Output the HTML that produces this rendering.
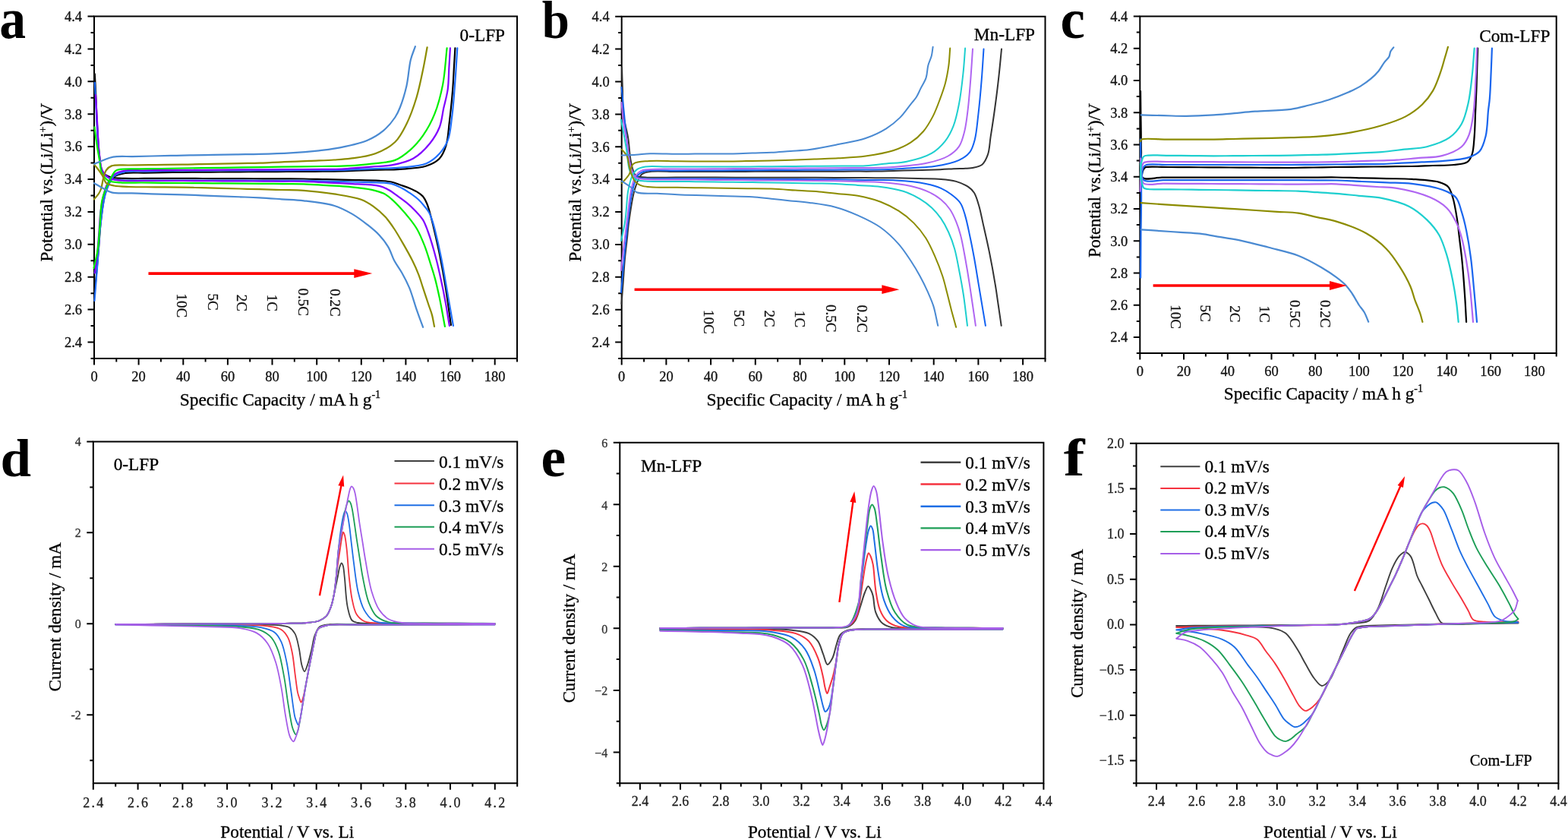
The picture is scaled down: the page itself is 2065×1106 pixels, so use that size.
<!DOCTYPE html>
<html><head><meta charset="utf-8"><title>Figure</title>
<style>html,body{margin:0;padding:0;background:#fff;}svg{display:block;}</style></head>
<body><svg width="2065" height="1106" viewBox="0 0 2065 1106">
<rect width="2065" height="1106" fill="#fff"/>
<path d="M124.0 21.5H681.0V472.0H124.0Z" fill="none" stroke="#000" stroke-width="2.0" stroke-linejoin="miter"/>
<path d="M124.0 472.0v8.5M182.6 472.0v8.5M241.3 472.0v8.5M299.9 472.0v8.5M358.5 472.0v8.5M417.2 472.0v8.5M475.8 472.0v8.5M534.4 472.0v8.5M593.1 472.0v8.5M651.7 472.0v8.5M153.3 472.0v4.5M211.9 472.0v4.5M270.6 472.0v4.5M329.2 472.0v4.5M387.8 472.0v4.5M446.5 472.0v4.5M505.1 472.0v4.5M563.7 472.0v4.5M622.4 472.0v4.5M681.0 472.0v4.5M124.0 450.5h-8.5M124.0 407.6h-8.5M124.0 364.7h-8.5M124.0 321.8h-8.5M124.0 278.9h-8.5M124.0 236.0h-8.5M124.0 193.1h-8.5M124.0 150.2h-8.5M124.0 107.3h-8.5M124.0 64.4h-8.5M124.0 21.5h-8.5M124.0 472.0h-4.5M124.0 429.1h-4.5M124.0 386.2h-4.5M124.0 343.3h-4.5M124.0 300.4h-4.5M124.0 257.5h-4.5M124.0 214.6h-4.5M124.0 171.7h-4.5M124.0 128.8h-4.5M124.0 85.9h-4.5M124.0 43.0h-4.5" stroke="#000" stroke-width="2.0" fill="none"/>
<text x="124.0" y="501.5" font-family="'Liberation Serif', 'Times New Roman', serif" font-size="18.5" text-anchor="middle" font-weight="normal" fill="#111" stroke="#111" stroke-width="0.3" >0</text>
<text x="182.6" y="501.5" font-family="'Liberation Serif', 'Times New Roman', serif" font-size="18.5" text-anchor="middle" font-weight="normal" fill="#111" stroke="#111" stroke-width="0.3" >20</text>
<text x="241.3" y="501.5" font-family="'Liberation Serif', 'Times New Roman', serif" font-size="18.5" text-anchor="middle" font-weight="normal" fill="#111" stroke="#111" stroke-width="0.3" >40</text>
<text x="299.9" y="501.5" font-family="'Liberation Serif', 'Times New Roman', serif" font-size="18.5" text-anchor="middle" font-weight="normal" fill="#111" stroke="#111" stroke-width="0.3" >60</text>
<text x="358.5" y="501.5" font-family="'Liberation Serif', 'Times New Roman', serif" font-size="18.5" text-anchor="middle" font-weight="normal" fill="#111" stroke="#111" stroke-width="0.3" >80</text>
<text x="417.2" y="501.5" font-family="'Liberation Serif', 'Times New Roman', serif" font-size="18.5" text-anchor="middle" font-weight="normal" fill="#111" stroke="#111" stroke-width="0.3" >100</text>
<text x="475.8" y="501.5" font-family="'Liberation Serif', 'Times New Roman', serif" font-size="18.5" text-anchor="middle" font-weight="normal" fill="#111" stroke="#111" stroke-width="0.3" >120</text>
<text x="534.4" y="501.5" font-family="'Liberation Serif', 'Times New Roman', serif" font-size="18.5" text-anchor="middle" font-weight="normal" fill="#111" stroke="#111" stroke-width="0.3" >140</text>
<text x="593.1" y="501.5" font-family="'Liberation Serif', 'Times New Roman', serif" font-size="18.5" text-anchor="middle" font-weight="normal" fill="#111" stroke="#111" stroke-width="0.3" >160</text>
<text x="651.7" y="501.5" font-family="'Liberation Serif', 'Times New Roman', serif" font-size="18.5" text-anchor="middle" font-weight="normal" fill="#111" stroke="#111" stroke-width="0.3" >180</text>
<text x="108.0" y="456.8" font-family="'Liberation Serif', 'Times New Roman', serif" font-size="18.5" text-anchor="end" font-weight="normal" fill="#111" stroke="#111" stroke-width="0.3" >2.4</text>
<text x="108.0" y="413.9" font-family="'Liberation Serif', 'Times New Roman', serif" font-size="18.5" text-anchor="end" font-weight="normal" fill="#111" stroke="#111" stroke-width="0.3" >2.6</text>
<text x="108.0" y="371.0" font-family="'Liberation Serif', 'Times New Roman', serif" font-size="18.5" text-anchor="end" font-weight="normal" fill="#111" stroke="#111" stroke-width="0.3" >2.8</text>
<text x="108.0" y="328.1" font-family="'Liberation Serif', 'Times New Roman', serif" font-size="18.5" text-anchor="end" font-weight="normal" fill="#111" stroke="#111" stroke-width="0.3" >3.0</text>
<text x="108.0" y="285.2" font-family="'Liberation Serif', 'Times New Roman', serif" font-size="18.5" text-anchor="end" font-weight="normal" fill="#111" stroke="#111" stroke-width="0.3" >3.2</text>
<text x="108.0" y="242.3" font-family="'Liberation Serif', 'Times New Roman', serif" font-size="18.5" text-anchor="end" font-weight="normal" fill="#111" stroke="#111" stroke-width="0.3" >3.4</text>
<text x="108.0" y="199.4" font-family="'Liberation Serif', 'Times New Roman', serif" font-size="18.5" text-anchor="end" font-weight="normal" fill="#111" stroke="#111" stroke-width="0.3" >3.6</text>
<text x="108.0" y="156.5" font-family="'Liberation Serif', 'Times New Roman', serif" font-size="18.5" text-anchor="end" font-weight="normal" fill="#111" stroke="#111" stroke-width="0.3" >3.8</text>
<text x="108.0" y="113.6" font-family="'Liberation Serif', 'Times New Roman', serif" font-size="18.5" text-anchor="end" font-weight="normal" fill="#111" stroke="#111" stroke-width="0.3" >4.0</text>
<text x="108.0" y="70.7" font-family="'Liberation Serif', 'Times New Roman', serif" font-size="18.5" text-anchor="end" font-weight="normal" fill="#111" stroke="#111" stroke-width="0.3" >4.2</text>
<text x="108.0" y="27.8" font-family="'Liberation Serif', 'Times New Roman', serif" font-size="18.5" text-anchor="end" font-weight="normal" fill="#111" stroke="#111" stroke-width="0.3" >4.4</text>
<path d="M818.7 21.7H1376.5V472.0H818.7Z" fill="none" stroke="#000" stroke-width="2.0" stroke-linejoin="miter"/>
<path d="M818.7 472.0v8.5M877.4 472.0v8.5M936.1 472.0v8.5M994.8 472.0v8.5M1053.6 472.0v8.5M1112.3 472.0v8.5M1171.0 472.0v8.5M1229.7 472.0v8.5M1288.4 472.0v8.5M1347.1 472.0v8.5M848.1 472.0v4.5M906.8 472.0v4.5M965.5 472.0v4.5M1024.2 472.0v4.5M1082.9 472.0v4.5M1141.6 472.0v4.5M1200.4 472.0v4.5M1259.1 472.0v4.5M1317.8 472.0v4.5M1376.5 472.0v4.5M818.7 450.6h-8.5M818.7 407.7h-8.5M818.7 364.8h-8.5M818.7 321.9h-8.5M818.7 279.0h-8.5M818.7 236.1h-8.5M818.7 193.2h-8.5M818.7 150.4h-8.5M818.7 107.5h-8.5M818.7 64.6h-8.5M818.7 21.7h-8.5M818.7 472.0h-4.5M818.7 429.1h-4.5M818.7 386.2h-4.5M818.7 343.3h-4.5M818.7 300.5h-4.5M818.7 257.6h-4.5M818.7 214.7h-4.5M818.7 171.8h-4.5M818.7 128.9h-4.5M818.7 86.0h-4.5M818.7 43.1h-4.5" stroke="#000" stroke-width="2.0" fill="none"/>
<text x="818.7" y="501.5" font-family="'Liberation Serif', 'Times New Roman', serif" font-size="18.5" text-anchor="middle" font-weight="normal" fill="#111" stroke="#111" stroke-width="0.3" >0</text>
<text x="877.4" y="501.5" font-family="'Liberation Serif', 'Times New Roman', serif" font-size="18.5" text-anchor="middle" font-weight="normal" fill="#111" stroke="#111" stroke-width="0.3" >20</text>
<text x="936.1" y="501.5" font-family="'Liberation Serif', 'Times New Roman', serif" font-size="18.5" text-anchor="middle" font-weight="normal" fill="#111" stroke="#111" stroke-width="0.3" >40</text>
<text x="994.8" y="501.5" font-family="'Liberation Serif', 'Times New Roman', serif" font-size="18.5" text-anchor="middle" font-weight="normal" fill="#111" stroke="#111" stroke-width="0.3" >60</text>
<text x="1053.6" y="501.5" font-family="'Liberation Serif', 'Times New Roman', serif" font-size="18.5" text-anchor="middle" font-weight="normal" fill="#111" stroke="#111" stroke-width="0.3" >80</text>
<text x="1112.3" y="501.5" font-family="'Liberation Serif', 'Times New Roman', serif" font-size="18.5" text-anchor="middle" font-weight="normal" fill="#111" stroke="#111" stroke-width="0.3" >100</text>
<text x="1171.0" y="501.5" font-family="'Liberation Serif', 'Times New Roman', serif" font-size="18.5" text-anchor="middle" font-weight="normal" fill="#111" stroke="#111" stroke-width="0.3" >120</text>
<text x="1229.7" y="501.5" font-family="'Liberation Serif', 'Times New Roman', serif" font-size="18.5" text-anchor="middle" font-weight="normal" fill="#111" stroke="#111" stroke-width="0.3" >140</text>
<text x="1288.4" y="501.5" font-family="'Liberation Serif', 'Times New Roman', serif" font-size="18.5" text-anchor="middle" font-weight="normal" fill="#111" stroke="#111" stroke-width="0.3" >160</text>
<text x="1347.1" y="501.5" font-family="'Liberation Serif', 'Times New Roman', serif" font-size="18.5" text-anchor="middle" font-weight="normal" fill="#111" stroke="#111" stroke-width="0.3" >180</text>
<text x="802.7" y="456.9" font-family="'Liberation Serif', 'Times New Roman', serif" font-size="18.5" text-anchor="end" font-weight="normal" fill="#111" stroke="#111" stroke-width="0.3" >2.4</text>
<text x="802.7" y="414.0" font-family="'Liberation Serif', 'Times New Roman', serif" font-size="18.5" text-anchor="end" font-weight="normal" fill="#111" stroke="#111" stroke-width="0.3" >2.6</text>
<text x="802.7" y="371.1" font-family="'Liberation Serif', 'Times New Roman', serif" font-size="18.5" text-anchor="end" font-weight="normal" fill="#111" stroke="#111" stroke-width="0.3" >2.8</text>
<text x="802.7" y="328.2" font-family="'Liberation Serif', 'Times New Roman', serif" font-size="18.5" text-anchor="end" font-weight="normal" fill="#111" stroke="#111" stroke-width="0.3" >3.0</text>
<text x="802.7" y="285.3" font-family="'Liberation Serif', 'Times New Roman', serif" font-size="18.5" text-anchor="end" font-weight="normal" fill="#111" stroke="#111" stroke-width="0.3" >3.2</text>
<text x="802.7" y="242.4" font-family="'Liberation Serif', 'Times New Roman', serif" font-size="18.5" text-anchor="end" font-weight="normal" fill="#111" stroke="#111" stroke-width="0.3" >3.4</text>
<text x="802.7" y="199.5" font-family="'Liberation Serif', 'Times New Roman', serif" font-size="18.5" text-anchor="end" font-weight="normal" fill="#111" stroke="#111" stroke-width="0.3" >3.6</text>
<text x="802.7" y="156.7" font-family="'Liberation Serif', 'Times New Roman', serif" font-size="18.5" text-anchor="end" font-weight="normal" fill="#111" stroke="#111" stroke-width="0.3" >3.8</text>
<text x="802.7" y="113.8" font-family="'Liberation Serif', 'Times New Roman', serif" font-size="18.5" text-anchor="end" font-weight="normal" fill="#111" stroke="#111" stroke-width="0.3" >4.0</text>
<text x="802.7" y="70.9" font-family="'Liberation Serif', 'Times New Roman', serif" font-size="18.5" text-anchor="end" font-weight="normal" fill="#111" stroke="#111" stroke-width="0.3" >4.2</text>
<text x="802.7" y="28.0" font-family="'Liberation Serif', 'Times New Roman', serif" font-size="18.5" text-anchor="end" font-weight="normal" fill="#111" stroke="#111" stroke-width="0.3" >4.4</text>
<path d="M1501.3 21.5H2049.7V465.1H1501.3Z" fill="none" stroke="#000" stroke-width="2.0" stroke-linejoin="miter"/>
<path d="M1501.3 465.1v8.5M1559.0 465.1v8.5M1616.8 465.1v8.5M1674.5 465.1v8.5M1732.2 465.1v8.5M1789.9 465.1v8.5M1847.7 465.1v8.5M1905.4 465.1v8.5M1963.1 465.1v8.5M2020.8 465.1v8.5M1530.2 465.1v4.5M1587.9 465.1v4.5M1645.6 465.1v4.5M1703.3 465.1v4.5M1761.1 465.1v4.5M1818.8 465.1v4.5M1876.5 465.1v4.5M1934.2 465.1v4.5M1992.0 465.1v4.5M2049.7 465.1v4.5M1501.3 444.0h-8.5M1501.3 401.7h-8.5M1501.3 359.5h-8.5M1501.3 317.2h-8.5M1501.3 275.0h-8.5M1501.3 232.7h-8.5M1501.3 190.5h-8.5M1501.3 148.2h-8.5M1501.3 106.0h-8.5M1501.3 63.7h-8.5M1501.3 21.5h-8.5M1501.3 465.1h-4.5M1501.3 422.9h-4.5M1501.3 380.6h-4.5M1501.3 338.4h-4.5M1501.3 296.1h-4.5M1501.3 253.9h-4.5M1501.3 211.6h-4.5M1501.3 169.4h-4.5M1501.3 127.1h-4.5M1501.3 84.9h-4.5M1501.3 42.6h-4.5" stroke="#000" stroke-width="2.0" fill="none"/>
<text x="1501.3" y="494.6" font-family="'Liberation Serif', 'Times New Roman', serif" font-size="18.5" text-anchor="middle" font-weight="normal" fill="#111" stroke="#111" stroke-width="0.3" >0</text>
<text x="1559.0" y="494.6" font-family="'Liberation Serif', 'Times New Roman', serif" font-size="18.5" text-anchor="middle" font-weight="normal" fill="#111" stroke="#111" stroke-width="0.3" >20</text>
<text x="1616.8" y="494.6" font-family="'Liberation Serif', 'Times New Roman', serif" font-size="18.5" text-anchor="middle" font-weight="normal" fill="#111" stroke="#111" stroke-width="0.3" >40</text>
<text x="1674.5" y="494.6" font-family="'Liberation Serif', 'Times New Roman', serif" font-size="18.5" text-anchor="middle" font-weight="normal" fill="#111" stroke="#111" stroke-width="0.3" >60</text>
<text x="1732.2" y="494.6" font-family="'Liberation Serif', 'Times New Roman', serif" font-size="18.5" text-anchor="middle" font-weight="normal" fill="#111" stroke="#111" stroke-width="0.3" >80</text>
<text x="1789.9" y="494.6" font-family="'Liberation Serif', 'Times New Roman', serif" font-size="18.5" text-anchor="middle" font-weight="normal" fill="#111" stroke="#111" stroke-width="0.3" >100</text>
<text x="1847.7" y="494.6" font-family="'Liberation Serif', 'Times New Roman', serif" font-size="18.5" text-anchor="middle" font-weight="normal" fill="#111" stroke="#111" stroke-width="0.3" >120</text>
<text x="1905.4" y="494.6" font-family="'Liberation Serif', 'Times New Roman', serif" font-size="18.5" text-anchor="middle" font-weight="normal" fill="#111" stroke="#111" stroke-width="0.3" >140</text>
<text x="1963.1" y="494.6" font-family="'Liberation Serif', 'Times New Roman', serif" font-size="18.5" text-anchor="middle" font-weight="normal" fill="#111" stroke="#111" stroke-width="0.3" >160</text>
<text x="2020.8" y="494.6" font-family="'Liberation Serif', 'Times New Roman', serif" font-size="18.5" text-anchor="middle" font-weight="normal" fill="#111" stroke="#111" stroke-width="0.3" >180</text>
<text x="1485.3" y="450.3" font-family="'Liberation Serif', 'Times New Roman', serif" font-size="18.5" text-anchor="end" font-weight="normal" fill="#111" stroke="#111" stroke-width="0.3" >2.4</text>
<text x="1485.3" y="408.0" font-family="'Liberation Serif', 'Times New Roman', serif" font-size="18.5" text-anchor="end" font-weight="normal" fill="#111" stroke="#111" stroke-width="0.3" >2.6</text>
<text x="1485.3" y="365.8" font-family="'Liberation Serif', 'Times New Roman', serif" font-size="18.5" text-anchor="end" font-weight="normal" fill="#111" stroke="#111" stroke-width="0.3" >2.8</text>
<text x="1485.3" y="323.5" font-family="'Liberation Serif', 'Times New Roman', serif" font-size="18.5" text-anchor="end" font-weight="normal" fill="#111" stroke="#111" stroke-width="0.3" >3.0</text>
<text x="1485.3" y="281.3" font-family="'Liberation Serif', 'Times New Roman', serif" font-size="18.5" text-anchor="end" font-weight="normal" fill="#111" stroke="#111" stroke-width="0.3" >3.2</text>
<text x="1485.3" y="239.0" font-family="'Liberation Serif', 'Times New Roman', serif" font-size="18.5" text-anchor="end" font-weight="normal" fill="#111" stroke="#111" stroke-width="0.3" >3.4</text>
<text x="1485.3" y="196.8" font-family="'Liberation Serif', 'Times New Roman', serif" font-size="18.5" text-anchor="end" font-weight="normal" fill="#111" stroke="#111" stroke-width="0.3" >3.6</text>
<text x="1485.3" y="154.5" font-family="'Liberation Serif', 'Times New Roman', serif" font-size="18.5" text-anchor="end" font-weight="normal" fill="#111" stroke="#111" stroke-width="0.3" >3.8</text>
<text x="1485.3" y="112.3" font-family="'Liberation Serif', 'Times New Roman', serif" font-size="18.5" text-anchor="end" font-weight="normal" fill="#111" stroke="#111" stroke-width="0.3" >4.0</text>
<text x="1485.3" y="70.0" font-family="'Liberation Serif', 'Times New Roman', serif" font-size="18.5" text-anchor="end" font-weight="normal" fill="#111" stroke="#111" stroke-width="0.3" >4.2</text>
<text x="1485.3" y="27.8" font-family="'Liberation Serif', 'Times New Roman', serif" font-size="18.5" text-anchor="end" font-weight="normal" fill="#111" stroke="#111" stroke-width="0.3" >4.4</text>
<path d="M122.8 581.4H681.2V1031.2H122.8Z" fill="none" stroke="#000" stroke-width="2.0" stroke-linejoin="miter"/>
<path d="M122.8 1031.2v8.5M181.6 1031.2v8.5M240.4 1031.2v8.5M299.1 1031.2v8.5M357.9 1031.2v8.5M416.7 1031.2v8.5M475.5 1031.2v8.5M534.3 1031.2v8.5M593.0 1031.2v8.5M651.8 1031.2v8.5M152.2 1031.2v4.5M211.0 1031.2v4.5M269.7 1031.2v4.5M328.5 1031.2v4.5M387.3 1031.2v4.5M446.1 1031.2v4.5M504.9 1031.2v4.5M563.6 1031.2v4.5M622.4 1031.2v4.5M681.2 1031.2v4.5M122.8 581.4h-8.5M122.8 701.3h-8.5M122.8 821.3h-8.5M122.8 941.2h-8.5M122.8 641.4h-4.5M122.8 761.3h-4.5M122.8 881.3h-4.5M122.8 1001.2h-4.5" stroke="#000" stroke-width="2.0" fill="none"/>
<text x="113.8 122.8 131.8" y="1062.7" font-family="'Liberation Serif', 'Times New Roman', serif" font-size="18" text-anchor="middle" fill="#222" stroke="#222" stroke-width="0.3">2.4</text>
<text x="172.6 181.6 190.6" y="1062.7" font-family="'Liberation Serif', 'Times New Roman', serif" font-size="18" text-anchor="middle" fill="#222" stroke="#222" stroke-width="0.3">2.6</text>
<text x="231.4 240.4 249.4" y="1062.7" font-family="'Liberation Serif', 'Times New Roman', serif" font-size="18" text-anchor="middle" fill="#222" stroke="#222" stroke-width="0.3">2.8</text>
<text x="290.1 299.1 308.1" y="1062.7" font-family="'Liberation Serif', 'Times New Roman', serif" font-size="18" text-anchor="middle" fill="#222" stroke="#222" stroke-width="0.3">3.0</text>
<text x="348.9 357.9 366.9" y="1062.7" font-family="'Liberation Serif', 'Times New Roman', serif" font-size="18" text-anchor="middle" fill="#222" stroke="#222" stroke-width="0.3">3.2</text>
<text x="407.7 416.7 425.7" y="1062.7" font-family="'Liberation Serif', 'Times New Roman', serif" font-size="18" text-anchor="middle" fill="#222" stroke="#222" stroke-width="0.3">3.4</text>
<text x="466.5 475.5 484.5" y="1062.7" font-family="'Liberation Serif', 'Times New Roman', serif" font-size="18" text-anchor="middle" fill="#222" stroke="#222" stroke-width="0.3">3.6</text>
<text x="525.3 534.3 543.3" y="1062.7" font-family="'Liberation Serif', 'Times New Roman', serif" font-size="18" text-anchor="middle" fill="#222" stroke="#222" stroke-width="0.3">3.8</text>
<text x="584.0 593.0 602.0" y="1062.7" font-family="'Liberation Serif', 'Times New Roman', serif" font-size="18" text-anchor="middle" fill="#222" stroke="#222" stroke-width="0.3">4.0</text>
<text x="642.8 651.8 660.8" y="1062.7" font-family="'Liberation Serif', 'Times New Roman', serif" font-size="18" text-anchor="middle" fill="#222" stroke="#222" stroke-width="0.3">4.2</text>
<text x="106.8" y="586.9" font-family="'Liberation Serif', 'Times New Roman', serif" font-size="16" text-anchor="end" font-weight="normal" fill="#333" stroke="#333" stroke-width="0.3" >4</text>
<text x="106.8" y="706.8" font-family="'Liberation Serif', 'Times New Roman', serif" font-size="16" text-anchor="end" font-weight="normal" fill="#333" stroke="#333" stroke-width="0.3" >2</text>
<text x="106.8" y="826.8" font-family="'Liberation Serif', 'Times New Roman', serif" font-size="16" text-anchor="end" font-weight="normal" fill="#333" stroke="#333" stroke-width="0.3" >0</text>
<text x="106.8" y="946.7" font-family="'Liberation Serif', 'Times New Roman', serif" font-size="16" text-anchor="end" font-weight="normal" fill="#333" stroke="#333" stroke-width="0.3" >-2</text>
<path d="M816.3 582.7H1374.4V1031.2H816.3Z" fill="none" stroke="#000" stroke-width="2.0" stroke-linejoin="miter"/>
<path d="M842.9 1031.2v8.5M896.0 1031.2v8.5M949.2 1031.2v8.5M1002.3 1031.2v8.5M1055.5 1031.2v8.5M1108.6 1031.2v8.5M1161.8 1031.2v8.5M1214.9 1031.2v8.5M1268.1 1031.2v8.5M1321.2 1031.2v8.5M1374.4 1031.2v8.5M816.3 1031.2v4.5M869.5 1031.2v4.5M922.6 1031.2v4.5M975.8 1031.2v4.5M1028.9 1031.2v4.5M1082.1 1031.2v4.5M1135.2 1031.2v4.5M1188.4 1031.2v4.5M1241.5 1031.2v4.5M1294.7 1031.2v4.5M1347.8 1031.2v4.5M816.3 582.7h-8.5M816.3 664.2h-8.5M816.3 745.8h-8.5M816.3 827.3h-8.5M816.3 908.9h-8.5M816.3 990.4h-8.5M816.3 623.5h-4.5M816.3 705.0h-4.5M816.3 786.6h-4.5M816.3 868.1h-4.5M816.3 949.7h-4.5M816.3 1031.2h-4.5" stroke="#000" stroke-width="2.0" fill="none"/>
<text x="842.9" y="1061.2" font-family="'Liberation Serif', 'Times New Roman', serif" font-size="18" text-anchor="middle" font-weight="normal" fill="#222" stroke="#222" stroke-width="0.3" >2.4</text>
<text x="896.0" y="1061.2" font-family="'Liberation Serif', 'Times New Roman', serif" font-size="18" text-anchor="middle" font-weight="normal" fill="#222" stroke="#222" stroke-width="0.3" >2.6</text>
<text x="949.2" y="1061.2" font-family="'Liberation Serif', 'Times New Roman', serif" font-size="18" text-anchor="middle" font-weight="normal" fill="#222" stroke="#222" stroke-width="0.3" >2.8</text>
<text x="1002.3" y="1061.2" font-family="'Liberation Serif', 'Times New Roman', serif" font-size="18" text-anchor="middle" font-weight="normal" fill="#222" stroke="#222" stroke-width="0.3" >3.0</text>
<text x="1055.5" y="1061.2" font-family="'Liberation Serif', 'Times New Roman', serif" font-size="18" text-anchor="middle" font-weight="normal" fill="#222" stroke="#222" stroke-width="0.3" >3.2</text>
<text x="1108.6" y="1061.2" font-family="'Liberation Serif', 'Times New Roman', serif" font-size="18" text-anchor="middle" font-weight="normal" fill="#222" stroke="#222" stroke-width="0.3" >3.4</text>
<text x="1161.8" y="1061.2" font-family="'Liberation Serif', 'Times New Roman', serif" font-size="18" text-anchor="middle" font-weight="normal" fill="#222" stroke="#222" stroke-width="0.3" >3.6</text>
<text x="1214.9" y="1061.2" font-family="'Liberation Serif', 'Times New Roman', serif" font-size="18" text-anchor="middle" font-weight="normal" fill="#222" stroke="#222" stroke-width="0.3" >3.8</text>
<text x="1268.1" y="1061.2" font-family="'Liberation Serif', 'Times New Roman', serif" font-size="18" text-anchor="middle" font-weight="normal" fill="#222" stroke="#222" stroke-width="0.3" >4.0</text>
<text x="1321.2" y="1061.2" font-family="'Liberation Serif', 'Times New Roman', serif" font-size="18" text-anchor="middle" font-weight="normal" fill="#222" stroke="#222" stroke-width="0.3" >4.2</text>
<text x="1374.4" y="1061.2" font-family="'Liberation Serif', 'Times New Roman', serif" font-size="18" text-anchor="middle" font-weight="normal" fill="#222" stroke="#222" stroke-width="0.3" >4.4</text>
<text x="800.3" y="589.2" font-family="'Liberation Serif', 'Times New Roman', serif" font-size="16" text-anchor="end" font-weight="normal" fill="#333" stroke="#333" stroke-width="0.3" >6</text>
<text x="800.3" y="670.7" font-family="'Liberation Serif', 'Times New Roman', serif" font-size="16" text-anchor="end" font-weight="normal" fill="#333" stroke="#333" stroke-width="0.3" >4</text>
<text x="800.3" y="752.3" font-family="'Liberation Serif', 'Times New Roman', serif" font-size="16" text-anchor="end" font-weight="normal" fill="#333" stroke="#333" stroke-width="0.3" >2</text>
<text x="800.3" y="833.8" font-family="'Liberation Serif', 'Times New Roman', serif" font-size="16" text-anchor="end" font-weight="normal" fill="#333" stroke="#333" stroke-width="0.3" >0</text>
<text x="800.3" y="915.4" font-family="'Liberation Serif', 'Times New Roman', serif" font-size="16" text-anchor="end" font-weight="normal" fill="#333" stroke="#333" stroke-width="0.3" >−2</text>
<text x="800.3" y="996.9" font-family="'Liberation Serif', 'Times New Roman', serif" font-size="16" text-anchor="end" font-weight="normal" fill="#333" stroke="#333" stroke-width="0.3" >−4</text>
<path d="M1496.5 583.7H2052.4V1031.2H1496.5Z" fill="none" stroke="#000" stroke-width="2.0" stroke-linejoin="miter"/>
<path d="M1523.0 1031.2v8.5M1575.9 1031.2v8.5M1628.9 1031.2v8.5M1681.8 1031.2v8.5M1734.7 1031.2v8.5M1787.7 1031.2v8.5M1840.6 1031.2v8.5M1893.6 1031.2v8.5M1946.5 1031.2v8.5M1999.5 1031.2v8.5M2052.4 1031.2v8.5M1496.5 1031.2v4.5M1549.4 1031.2v4.5M1602.4 1031.2v4.5M1655.3 1031.2v4.5M1708.3 1031.2v4.5M1761.2 1031.2v4.5M1814.2 1031.2v4.5M1867.1 1031.2v4.5M1920.0 1031.2v4.5M1973.0 1031.2v4.5M2025.9 1031.2v4.5M1496.5 1001.4h-8.5M1496.5 941.7h-8.5M1496.5 882.0h-8.5M1496.5 822.4h-8.5M1496.5 762.7h-8.5M1496.5 703.0h-8.5M1496.5 643.4h-8.5M1496.5 583.7h-8.5M1496.5 1031.2h-4.5M1496.5 971.5h-4.5M1496.5 911.9h-4.5M1496.5 852.2h-4.5M1496.5 792.5h-4.5M1496.5 732.9h-4.5M1496.5 673.2h-4.5M1496.5 613.5h-4.5" stroke="#000" stroke-width="2.0" fill="none"/>
<text x="1523.0" y="1061.2" font-family="'Liberation Serif', 'Times New Roman', serif" font-size="18" text-anchor="middle" font-weight="normal" fill="#222" stroke="#222" stroke-width="0.3" >2.4</text>
<text x="1575.9" y="1061.2" font-family="'Liberation Serif', 'Times New Roman', serif" font-size="18" text-anchor="middle" font-weight="normal" fill="#222" stroke="#222" stroke-width="0.3" >2.6</text>
<text x="1628.9" y="1061.2" font-family="'Liberation Serif', 'Times New Roman', serif" font-size="18" text-anchor="middle" font-weight="normal" fill="#222" stroke="#222" stroke-width="0.3" >2.8</text>
<text x="1681.8" y="1061.2" font-family="'Liberation Serif', 'Times New Roman', serif" font-size="18" text-anchor="middle" font-weight="normal" fill="#222" stroke="#222" stroke-width="0.3" >3.0</text>
<text x="1734.7" y="1061.2" font-family="'Liberation Serif', 'Times New Roman', serif" font-size="18" text-anchor="middle" font-weight="normal" fill="#222" stroke="#222" stroke-width="0.3" >3.2</text>
<text x="1787.7" y="1061.2" font-family="'Liberation Serif', 'Times New Roman', serif" font-size="18" text-anchor="middle" font-weight="normal" fill="#222" stroke="#222" stroke-width="0.3" >3.4</text>
<text x="1840.6" y="1061.2" font-family="'Liberation Serif', 'Times New Roman', serif" font-size="18" text-anchor="middle" font-weight="normal" fill="#222" stroke="#222" stroke-width="0.3" >3.6</text>
<text x="1893.6" y="1061.2" font-family="'Liberation Serif', 'Times New Roman', serif" font-size="18" text-anchor="middle" font-weight="normal" fill="#222" stroke="#222" stroke-width="0.3" >3.8</text>
<text x="1946.5" y="1061.2" font-family="'Liberation Serif', 'Times New Roman', serif" font-size="18" text-anchor="middle" font-weight="normal" fill="#222" stroke="#222" stroke-width="0.3" >4.0</text>
<text x="1999.5" y="1061.2" font-family="'Liberation Serif', 'Times New Roman', serif" font-size="18" text-anchor="middle" font-weight="normal" fill="#222" stroke="#222" stroke-width="0.3" >4.2</text>
<text x="2052.4" y="1061.2" font-family="'Liberation Serif', 'Times New Roman', serif" font-size="18" text-anchor="middle" font-weight="normal" fill="#222" stroke="#222" stroke-width="0.3" >4.4</text>
<text x="1480.5" y="1007.4" font-family="'Liberation Serif', 'Times New Roman', serif" font-size="18" text-anchor="end" font-weight="normal" fill="#222" stroke="#222" stroke-width="0.3" >−1.5</text>
<text x="1480.5" y="947.7" font-family="'Liberation Serif', 'Times New Roman', serif" font-size="18" text-anchor="end" font-weight="normal" fill="#222" stroke="#222" stroke-width="0.3" >−1.0</text>
<text x="1480.5" y="888.0" font-family="'Liberation Serif', 'Times New Roman', serif" font-size="18" text-anchor="end" font-weight="normal" fill="#222" stroke="#222" stroke-width="0.3" >−0.5</text>
<text x="1480.5" y="828.4" font-family="'Liberation Serif', 'Times New Roman', serif" font-size="18" text-anchor="end" font-weight="normal" fill="#222" stroke="#222" stroke-width="0.3" >0.0</text>
<text x="1480.5" y="768.7" font-family="'Liberation Serif', 'Times New Roman', serif" font-size="18" text-anchor="end" font-weight="normal" fill="#222" stroke="#222" stroke-width="0.3" >0.5</text>
<text x="1480.5" y="709.0" font-family="'Liberation Serif', 'Times New Roman', serif" font-size="18" text-anchor="end" font-weight="normal" fill="#222" stroke="#222" stroke-width="0.3" >1.0</text>
<text x="1480.5" y="649.4" font-family="'Liberation Serif', 'Times New Roman', serif" font-size="18" text-anchor="end" font-weight="normal" fill="#222" stroke="#222" stroke-width="0.3" >1.5</text>
<text x="1480.5" y="589.7" font-family="'Liberation Serif', 'Times New Roman', serif" font-size="18" text-anchor="end" font-weight="normal" fill="#222" stroke="#222" stroke-width="0.3" >2.0</text>
<path d="M124.5 386.0C125.7 374.0 127.0 361.5 128.0 350.0C128.9 339.5 129.7 330.0 130.5 320.0C131.3 310.0 131.6 300.7 133.0 290.0C134.6 277.6 136.2 260.3 140.0 250.0C142.6 242.8 145.5 236.7 150.0 233.0C154.0 229.7 159.3 229.0 165.0 228.0C172.2 226.8 181.7 227.7 190.0 227.6C198.3 227.5 206.7 227.3 215.0 227.2C223.3 227.1 231.7 226.9 240.0 226.8C248.3 226.7 256.7 226.7 265.0 226.7C273.3 226.6 281.7 226.6 290.0 226.5C298.3 226.4 306.7 226.4 315.0 226.3C323.3 226.3 331.7 226.2 340.0 226.2C348.3 226.1 356.7 226.1 365.0 226.1C373.3 226.0 381.7 226.0 390.0 225.9C398.3 225.8 406.7 225.8 415.0 225.8C423.3 225.7 431.4 225.8 440.0 225.6C449.3 225.4 459.3 225.0 468.9 224.7C478.6 224.4 488.2 224.0 497.9 223.7C507.5 223.4 516.7 223.6 526.8 222.8C537.9 221.9 552.2 221.6 561.5 218.5C568.5 216.2 574.5 213.3 578.8 208.7C583.1 204.2 585.4 198.2 587.5 191.4C590.2 182.9 590.5 172.0 591.8 161.0C593.4 147.8 595.2 130.4 596.2 117.6C597.0 107.5 597.3 99.5 597.8 90.5C598.3 81.5 598.9 72.4 599.4 63.4" fill="none" stroke="#000000" stroke-width="2.2" stroke-linejoin="round" stroke-linecap="round"/>
<path d="M124.8 97.4C125.2 104.9 125.6 111.2 126.0 120.0C126.6 132.4 127.1 150.4 128.0 165.0C128.8 178.7 129.5 193.8 131.0 205.0C132.1 213.2 131.9 221.2 135.0 226.0C137.3 229.6 140.9 231.5 145.0 233.0C150.3 235.0 158.0 234.6 165.0 234.9C172.9 235.3 181.7 234.9 190.0 234.9C198.3 234.9 206.7 234.9 215.0 234.9C223.3 234.9 231.5 234.9 240.0 234.9C248.7 234.9 257.8 235.0 266.7 235.0C275.6 235.0 284.4 235.1 293.3 235.1C302.2 235.1 311.1 235.2 320.0 235.2C328.9 235.2 337.8 235.3 346.7 235.3C355.6 235.3 364.4 235.4 373.3 235.4C382.2 235.4 390.9 235.4 400.0 235.5C409.7 235.6 419.9 236.0 429.9 236.2C439.8 236.4 449.0 236.6 459.7 236.9C472.0 237.2 489.2 237.3 499.4 237.9C505.9 238.3 510.4 238.5 515.3 239.5C519.6 240.4 523.3 242.1 527.3 243.5C531.3 244.9 535.3 246.1 539.2 247.8C543.2 249.5 547.9 251.7 551.1 253.8C553.5 255.4 555.4 256.7 557.1 258.8C559.1 261.2 560.7 264.4 562.1 267.7C563.7 271.3 564.7 275.2 566.0 279.7C567.7 285.5 569.2 291.9 571.0 299.5C573.4 309.7 576.5 322.7 579.0 335.3C581.8 349.1 584.5 364.1 586.9 379.1C589.5 394.9 591.6 411.6 593.9 427.8" fill="none" stroke="#000000" stroke-width="2.2" stroke-linejoin="round" stroke-linecap="round"/>
<path d="M124.5 396.0C125.3 385.7 126.2 375.5 127.0 365.0C127.8 354.3 128.7 343.3 129.5 332.5C130.3 321.7 130.6 311.7 132.0 300.0C133.6 286.2 135.2 267.3 139.0 255.0C141.8 245.8 144.9 236.8 150.0 232.0C154.1 228.2 159.2 227.2 165.0 226.0C172.2 224.6 181.7 225.7 190.0 225.6C198.3 225.4 206.7 225.3 215.0 225.1C223.3 225.0 231.6 224.8 240.0 224.7C248.6 224.6 257.5 224.6 266.2 224.6C275.0 224.6 283.8 224.6 292.5 224.5C301.2 224.5 310.0 224.5 318.8 224.4C327.5 224.4 336.2 224.4 345.0 224.3C353.8 224.3 362.5 224.3 371.2 224.3C380.0 224.2 388.8 224.2 397.5 224.2C406.2 224.1 415.0 224.1 423.8 224.1C432.5 224.1 441.3 224.2 450.0 224.0C458.6 223.8 467.1 223.3 475.6 222.9C484.1 222.5 492.7 222.2 501.2 221.8C509.7 221.4 517.6 221.6 526.8 220.7C537.5 219.6 552.3 219.1 561.5 215.2C568.7 212.1 574.1 207.3 578.8 202.2C583.4 197.2 587.0 191.8 589.7 184.9C593.0 176.4 593.6 165.8 595.1 154.5C597.0 140.4 598.2 122.3 599.4 106.8C600.6 92.0 601.3 77.9 602.3 63.4" fill="none" stroke="#1f6fff" stroke-width="2.2" stroke-linejoin="round" stroke-linecap="round"/>
<path d="M124.8 108.8C125.2 115.9 125.6 121.8 126.0 130.0C126.6 141.2 127.2 156.8 128.0 170.0C128.8 182.8 129.5 197.5 131.0 208.0C132.1 215.5 132.1 222.3 135.0 227.0C137.3 230.8 140.8 233.2 145.0 235.0C150.3 237.2 157.9 237.1 165.0 237.5C172.9 238.0 181.7 237.5 190.0 237.5C198.3 237.5 206.7 237.5 215.0 237.5C223.3 237.5 231.5 237.5 240.0 237.5C248.7 237.5 257.8 237.5 266.7 237.6C275.6 237.6 284.4 237.6 293.3 237.6C302.2 237.7 311.1 237.7 320.0 237.7C328.9 237.7 337.8 237.7 346.7 237.8C355.6 237.8 364.4 237.8 373.3 237.8C382.2 237.9 391.1 237.8 400.0 237.9C408.8 238.0 417.7 238.3 426.5 238.6C435.3 238.8 444.2 239.0 453.0 239.2C461.8 239.5 470.0 239.5 479.5 239.9C490.5 240.3 506.3 239.8 515.3 241.9C521.2 243.3 525.1 245.7 529.3 247.8C533.0 249.7 535.8 251.5 539.2 253.8C543.0 256.4 547.7 259.6 551.1 262.8C554.2 265.6 556.7 268.8 559.1 271.7C561.3 274.4 563.4 276.8 565.0 279.7C566.7 282.7 567.8 286.0 569.0 289.6C570.5 293.8 571.5 297.8 573.0 303.5C575.3 312.6 578.5 326.7 581.0 339.3C583.8 353.1 586.3 368.3 588.9 383.1C591.6 398.2 594.2 413.6 596.9 428.8" fill="none" stroke="#1f6fff" stroke-width="2.2" stroke-linejoin="round" stroke-linecap="round"/>
<path d="M124.8 359.5C125.9 351.3 127.1 343.6 128.0 335.0C129.0 325.5 129.7 315.0 130.5 305.0C131.3 295.0 131.4 284.9 133.0 275.0C134.6 264.9 136.5 253.0 140.0 245.0C142.7 238.9 145.6 233.4 150.0 230.0C154.1 226.8 159.3 225.5 165.0 224.5C172.2 223.2 181.7 224.4 190.0 224.3C198.3 224.2 206.7 224.2 215.0 224.1C223.3 224.0 231.6 224.0 240.0 223.9C248.6 223.8 257.5 223.8 266.2 223.8C275.0 223.7 283.8 223.7 292.5 223.6C301.2 223.5 310.0 223.5 318.8 223.4C327.5 223.4 336.2 223.4 345.0 223.3C353.8 223.2 362.5 223.2 371.2 223.2C380.0 223.1 388.8 223.1 397.5 223.0C406.2 222.9 415.0 222.9 423.8 222.8C432.5 222.8 443.0 223.0 450.0 222.7C454.7 222.5 457.0 222.1 461.7 221.7C468.9 221.1 479.8 220.3 488.8 219.6C497.8 218.8 506.9 219.1 515.9 217.4C525.3 215.6 535.8 213.4 544.1 208.7C552.4 204.0 559.9 196.4 565.8 189.2C571.3 182.5 575.7 175.3 578.8 167.5C581.9 159.7 582.4 150.9 584.2 142.6C586.1 134.2 588.5 126.1 589.7 117.6C590.9 108.8 590.8 99.5 591.3 90.5C591.8 81.5 592.4 72.4 592.9 63.4" fill="none" stroke="#8000ff" stroke-width="2.2" stroke-linejoin="round" stroke-linecap="round"/>
<path d="M126.0 125.0C126.7 136.7 127.2 147.6 128.0 160.0C128.9 174.1 129.4 193.0 131.0 205.0C132.1 213.0 132.2 219.8 135.0 225.0C137.3 229.3 140.6 232.8 145.0 235.0C150.2 237.6 157.9 237.5 165.0 238.0C172.8 238.6 181.7 238.0 190.0 238.0C198.3 238.0 206.7 238.0 215.0 238.0C223.3 238.0 231.5 238.0 240.0 238.0C248.7 238.0 257.8 238.1 266.7 238.2C275.6 238.2 284.4 238.3 293.3 238.3C302.2 238.4 311.1 238.4 320.0 238.4C328.9 238.5 337.8 238.5 346.7 238.6C355.6 238.7 364.4 238.7 373.3 238.8C382.2 238.8 390.9 238.6 400.0 238.9C409.7 239.2 419.9 239.9 429.9 240.4C439.8 240.9 449.0 241.2 459.7 241.9C472.0 242.7 490.1 242.7 499.4 244.9C504.7 246.1 507.5 247.7 511.4 249.8C515.5 252.0 519.4 255.0 523.3 257.8C527.3 260.6 531.3 263.5 535.2 266.7C539.3 270.1 543.4 273.8 547.1 277.7C550.7 281.5 554.4 285.3 557.1 289.6C559.7 293.9 561.2 298.5 563.1 303.5C565.2 309.0 567.1 315.1 569.0 321.4C571.1 328.3 573.1 335.7 575.0 343.3C577.1 351.5 579.0 360.2 580.9 369.1C583.0 378.7 585.1 389.0 586.9 399.0C588.7 408.9 590.2 418.9 591.9 428.8" fill="none" stroke="#8000ff" stroke-width="2.2" stroke-linejoin="round" stroke-linecap="round"/>
<path d="M123.5 353.0C125.2 345.0 127.4 337.6 128.7 329.0C130.2 319.0 130.6 307.3 131.6 296.5C132.5 285.7 132.3 273.8 134.4 264.0C136.2 255.6 139.4 248.0 142.6 241.2C145.5 235.2 148.8 227.6 152.3 224.9C154.4 223.3 155.8 223.4 158.8 222.9C164.7 222.0 176.8 222.6 185.9 222.4C194.9 222.3 203.9 222.1 212.9 222.0C222.0 221.8 231.0 221.6 240.0 221.5C248.8 221.4 257.5 221.3 266.2 221.1C275.0 221.0 283.8 220.9 292.5 220.8C301.2 220.7 310.0 220.5 318.8 220.4C327.5 220.3 336.2 220.2 345.0 220.1C353.8 219.9 362.5 219.8 371.2 219.7C380.0 219.6 388.8 219.4 397.5 219.3C406.2 219.2 415.0 219.1 423.8 219.0C432.5 218.8 440.7 219.0 450.0 218.6C460.5 218.2 472.0 217.5 483.4 216.3C495.4 215.0 510.3 214.7 520.3 210.9C528.2 207.9 533.8 203.1 539.8 197.9C546.1 192.4 551.9 185.8 557.1 178.4C562.9 170.2 568.1 160.6 572.3 150.2C577.0 138.5 580.5 124.9 583.2 111.1C586.1 96.1 586.8 79.3 588.6 63.4" fill="none" stroke="#00f000" stroke-width="2.2" stroke-linejoin="round" stroke-linecap="round"/>
<path d="M124.5 167.4C125.0 171.6 125.3 174.9 126.0 180.0C127.2 188.2 129.6 203.1 131.2 211.9C132.3 218.2 132.2 223.6 134.4 228.1C136.3 232.1 138.9 235.8 142.6 237.9C146.8 240.2 152.7 239.8 158.8 240.3C166.7 240.9 176.8 240.5 185.9 240.5C194.9 240.6 203.9 240.7 212.9 240.8C222.0 240.8 231.0 240.9 240.0 241.0C248.9 241.1 257.8 241.1 266.7 241.2C275.6 241.3 284.4 241.4 293.3 241.4C302.2 241.5 311.1 241.6 320.0 241.7C328.9 241.7 337.8 241.8 346.7 241.9C355.6 241.9 364.4 242.0 373.3 242.1C382.2 242.2 390.9 242.0 400.0 242.3C409.7 242.6 419.9 243.5 429.9 244.1C439.8 244.7 449.8 245.0 459.7 245.9C469.7 246.9 481.2 248.0 489.5 249.8C495.7 251.2 500.9 252.6 505.4 254.8C509.3 256.7 512.0 259.0 515.3 261.8C519.2 265.1 523.4 269.5 527.3 273.7C531.4 278.1 535.5 282.9 539.2 287.6C542.8 292.2 546.0 296.2 549.1 301.5C552.8 307.8 556.1 315.9 559.1 323.4C562.1 331.1 564.6 339.7 567.0 347.3C569.2 354.2 571.1 360.0 573.0 367.1C575.1 375.1 577.0 383.6 579.0 393.0C581.3 404.2 583.6 417.5 585.9 429.8" fill="none" stroke="#00f000" stroke-width="2.2" stroke-linejoin="round" stroke-linecap="round"/>
<path d="M124.0 262.3C126.0 259.9 128.4 257.4 130.0 255.0C131.3 253.0 132.1 251.5 133.0 249.0C134.3 245.4 134.8 239.3 136.0 235.0C137.1 231.1 138.0 226.8 140.0 224.0C141.8 221.5 143.7 219.6 147.0 218.4C152.2 216.4 161.5 217.7 170.0 217.5C180.4 217.2 193.3 217.2 205.0 217.1C216.7 216.9 229.3 216.8 240.0 216.6C249.2 216.5 256.9 216.3 265.4 216.1C273.9 215.9 282.4 215.8 290.9 215.6C299.3 215.4 307.8 215.3 316.3 215.1C324.8 214.9 332.7 214.9 341.7 214.6C351.9 214.3 363.5 213.7 374.5 213.2C385.4 212.8 396.3 212.3 407.2 211.9C418.2 211.4 430.2 211.1 440.0 210.5C448.0 210.0 453.8 209.8 461.7 208.7C471.5 207.3 484.2 206.0 494.2 202.2C503.7 198.6 513.4 193.7 520.3 187.0C527.0 180.6 530.9 172.1 535.4 163.2C540.5 153.0 544.9 140.4 548.5 128.5C552.1 116.5 554.7 103.2 557.1 91.6C559.3 81.3 560.8 72.1 562.6 62.3" fill="none" stroke="#8c8c00" stroke-width="2.2" stroke-linejoin="round" stroke-linecap="round"/>
<path d="M124.0 216.7C126.0 219.1 128.1 221.5 130.0 224.0C131.8 226.4 133.4 228.7 135.0 231.4C136.8 234.4 137.5 239.0 140.0 241.2C142.5 243.3 146.0 243.7 150.0 244.5C155.5 245.6 162.4 245.7 170.0 246.0C180.0 246.4 193.3 246.2 205.0 246.3C216.7 246.4 229.3 246.4 240.0 246.6C249.2 246.8 256.9 247.0 265.4 247.2C273.9 247.5 282.4 247.7 290.9 247.9C299.3 248.1 307.8 248.3 316.3 248.5C324.8 248.8 332.9 249.0 341.7 249.2C351.1 249.4 361.1 249.7 370.9 250.0C380.6 250.3 389.5 250.1 400.0 250.8C412.3 251.7 426.9 253.3 439.8 255.4C452.1 257.4 466.3 259.3 475.6 262.8C482.2 265.3 486.4 268.1 491.5 271.7C497.0 275.6 502.7 280.5 507.4 285.6C511.9 290.5 515.5 295.8 519.3 301.5C523.4 307.7 527.3 314.6 531.2 321.4C535.3 328.5 539.7 336.3 543.2 343.3C546.3 349.5 548.8 355.2 551.1 361.2C553.4 367.1 555.0 372.7 557.1 379.1C559.6 386.5 562.8 396.4 565.0 403.0C566.6 407.7 567.9 410.7 569.0 414.9C570.2 419.6 571.0 424.8 572.0 429.8" fill="none" stroke="#8c8c00" stroke-width="2.2" stroke-linejoin="round" stroke-linecap="round"/>
<path d="M124.0 215.9C128.0 214.3 131.9 212.5 136.0 211.0C140.2 209.4 143.9 207.5 149.0 206.6C156.0 205.4 166.0 206.2 174.5 206.1C183.0 205.9 191.5 205.7 200.0 205.5C208.4 205.3 216.7 205.1 225.0 204.9C233.3 204.8 241.2 204.6 250.0 204.4C259.7 204.2 270.4 204.1 280.6 203.9C290.8 203.7 300.9 203.6 311.1 203.4C321.3 203.2 330.8 203.2 341.7 202.9C354.3 202.6 369.1 202.2 382.4 201.4C395.2 200.6 409.4 199.4 420.0 198.3C427.7 197.5 432.1 197.2 440.0 195.7C451.8 193.5 471.7 189.8 483.4 184.9C492.2 181.2 498.8 177.0 505.1 171.8C511.1 166.8 516.5 160.1 520.3 154.5C523.3 150.1 524.7 146.8 526.8 141.5C529.8 134.0 533.1 123.3 535.4 113.3C537.9 102.4 538.5 88.1 540.9 78.6C542.6 71.7 544.9 67.0 546.9 61.2" fill="none" stroke="#4a8ad2" stroke-width="2.2" stroke-linejoin="round" stroke-linecap="round"/>
<path d="M124.0 241.2C127.7 243.3 131.2 245.5 135.0 247.5C138.9 249.6 142.1 252.2 147.0 253.4C154.0 255.2 164.7 254.0 173.5 254.4C182.3 254.7 190.3 255.0 200.0 255.3C212.0 255.7 228.2 255.9 240.0 256.3C249.4 256.6 256.9 257.0 265.4 257.3C273.9 257.6 282.4 258.0 290.9 258.3C299.3 258.6 307.8 259.0 316.3 259.3C324.8 259.6 332.9 259.8 341.7 260.3C351.1 260.8 361.1 261.6 370.9 262.3C380.6 263.0 389.6 263.1 400.0 264.3C412.3 265.7 428.4 267.3 439.8 270.7C449.0 273.5 456.2 277.4 463.6 281.6C470.7 285.7 477.4 290.8 483.5 295.6C489.2 300.1 494.7 304.4 499.4 309.5C504.0 314.4 508.1 319.7 511.4 325.4C514.7 331.0 516.3 337.6 519.3 343.3C522.3 348.9 526.1 353.5 529.3 359.2C532.8 365.4 536.1 371.7 539.2 379.1C542.8 387.9 545.9 399.8 549.1 408.9C551.8 416.8 554.4 423.5 557.1 430.8" fill="none" stroke="#4a8ad2" stroke-width="2.2" stroke-linejoin="round" stroke-linecap="round"/>
<path d="M818.5 400.0C819.2 390.0 820.0 380.0 820.8 370.0C821.5 360.0 822.1 349.5 823.0 340.0C823.8 331.3 824.8 323.3 825.8 315.0C826.7 306.7 827.1 299.3 828.5 290.0C830.3 277.9 832.6 259.7 836.1 248.7C838.6 241.0 840.8 233.4 844.9 229.7C848.0 226.9 851.4 226.7 856.3 225.9C864.5 224.6 879.5 226.0 890.0 226.0C899.2 226.0 907.3 226.0 916.0 226.0C924.7 225.9 933.3 225.9 942.0 225.9C950.7 225.9 959.3 225.9 968.0 225.9C976.7 225.9 985.3 225.9 994.0 225.8C1002.7 225.8 1011.3 225.8 1020.0 225.8C1028.7 225.8 1037.3 225.8 1046.0 225.8C1054.7 225.7 1063.3 225.7 1072.0 225.7C1080.7 225.7 1089.3 225.7 1098.0 225.7C1106.7 225.7 1115.3 225.7 1124.0 225.6C1132.7 225.6 1141.3 225.7 1150.0 225.6C1158.9 225.5 1167.9 225.2 1176.8 224.9C1185.7 224.7 1194.7 224.5 1203.6 224.3C1212.5 224.0 1221.6 223.9 1230.4 223.6C1239.0 223.3 1247.3 222.7 1255.7 222.2C1264.1 221.8 1274.1 222.3 1281.0 220.9C1286.0 219.9 1290.4 219.2 1293.7 216.4C1297.1 213.5 1299.1 208.8 1300.9 203.7C1303.2 197.2 1303.3 188.9 1304.6 180.2C1306.3 169.4 1308.3 156.6 1310.0 144.0C1311.9 130.2 1313.9 114.4 1315.4 100.6C1316.8 88.0 1317.8 76.5 1319.0 64.5" fill="none" stroke="#333333" stroke-width="2.0" stroke-linejoin="round" stroke-linecap="round"/>
<path d="M819.0 89.0C819.3 99.2 819.6 109.3 820.0 119.5C820.3 129.7 819.7 139.8 820.9 150.0C822.1 160.5 825.5 171.0 827.2 181.6C828.9 192.1 828.9 204.4 831.0 213.3C832.6 220.2 833.6 227.8 837.3 231.0C840.4 233.7 844.6 233.0 850.0 233.5C859.6 234.4 878.1 233.5 890.0 233.5C899.7 233.5 907.5 233.5 916.2 233.6C925.0 233.6 933.8 233.6 942.5 233.6C951.2 233.6 960.0 233.6 968.8 233.7C977.5 233.7 986.2 233.7 995.0 233.7C1003.8 233.7 1012.5 233.7 1021.2 233.8C1030.0 233.8 1038.8 233.8 1047.5 233.8C1056.2 233.8 1065.0 233.8 1073.8 233.8C1082.5 233.9 1091.2 233.9 1100.0 233.9C1108.8 233.9 1117.7 234.0 1126.5 234.0C1135.3 234.1 1144.2 234.1 1153.0 234.2C1161.8 234.2 1170.4 234.2 1179.5 234.3C1189.2 234.5 1199.4 234.8 1209.3 235.1C1219.3 235.4 1230.3 235.1 1239.2 235.9C1246.5 236.5 1252.9 237.1 1259.1 238.9C1264.8 240.6 1270.8 243.0 1275.0 245.9C1278.4 248.2 1280.7 250.4 1282.9 253.8C1285.6 258.0 1287.1 263.7 1288.9 269.7C1291.2 277.2 1292.8 286.3 1294.9 295.6C1297.4 306.6 1300.3 318.8 1302.8 331.4C1305.6 345.2 1308.7 362.3 1310.8 375.1C1312.5 385.1 1313.4 393.0 1314.8 402.0C1316.1 410.9 1317.4 419.9 1318.7 428.8" fill="none" stroke="#333333" stroke-width="2.0" stroke-linejoin="round" stroke-linecap="round"/>
<path d="M818.0 385.0C819.3 370.0 820.8 352.8 822.0 340.0C822.9 330.4 823.7 323.3 824.6 315.0C825.5 306.7 826.0 299.2 827.2 290.0C828.6 278.5 830.3 262.0 832.9 251.3C834.8 243.3 836.2 235.4 839.8 231.0C842.5 227.8 845.2 226.6 850.0 225.3C859.1 222.9 879.7 224.8 892.0 224.7C901.6 224.6 909.2 224.6 917.8 224.6C926.4 224.5 935.0 224.5 943.6 224.4C952.2 224.4 960.8 224.4 969.4 224.3C978.0 224.3 986.6 224.2 995.2 224.2C1003.8 224.1 1012.4 224.1 1021.0 224.1C1029.6 224.0 1038.2 224.0 1046.8 223.9C1055.4 223.9 1064.0 223.8 1072.6 223.8C1081.2 223.7 1089.8 223.7 1098.4 223.7C1107.0 223.6 1115.6 223.6 1124.2 223.5C1132.8 223.5 1141.4 223.5 1150.0 223.4C1158.7 223.3 1167.4 223.1 1176.2 222.7C1185.2 222.3 1194.3 221.5 1203.3 220.9C1212.3 220.3 1221.0 220.6 1230.4 219.1C1240.8 217.5 1254.6 214.9 1263.0 210.9C1269.1 208.0 1273.9 204.7 1277.4 200.1C1280.8 195.6 1282.1 190.3 1283.8 183.8C1286.1 174.9 1286.9 163.2 1288.3 151.3C1290.0 137.1 1291.6 119.2 1292.8 104.2C1293.9 90.4 1294.6 77.7 1295.5 64.5" fill="none" stroke="#1262f2" stroke-width="2.0" stroke-linejoin="round" stroke-linecap="round"/>
<path d="M818.5 115.0C819.7 126.7 820.8 137.9 822.0 150.0C823.3 162.9 824.4 177.4 826.0 190.0C827.4 201.3 828.3 214.3 831.0 222.0C832.7 226.8 834.2 230.8 837.3 233.0C840.5 235.2 844.6 234.7 850.0 235.2C859.6 236.0 878.1 235.2 890.0 235.2C899.7 235.2 907.5 235.3 916.2 235.3C925.0 235.4 933.8 235.4 942.5 235.5C951.2 235.5 960.0 235.6 968.8 235.6C977.5 235.7 986.2 235.7 995.0 235.8C1003.8 235.8 1012.5 235.8 1021.2 235.9C1030.0 235.9 1038.8 236.0 1047.5 236.0C1056.2 236.1 1065.0 236.1 1073.8 236.2C1082.5 236.2 1091.2 236.2 1100.0 236.3C1108.8 236.4 1117.7 236.6 1126.5 236.7C1135.3 236.8 1144.2 237.0 1153.0 237.1C1161.8 237.2 1169.8 236.9 1179.5 237.5C1191.4 238.2 1208.4 239.7 1219.3 241.9C1227.2 243.5 1233.1 245.0 1239.2 247.8C1245.0 250.4 1250.6 254.2 1255.1 257.8C1259.0 260.9 1262.4 263.7 1265.0 267.7C1267.9 272.1 1269.2 277.6 1271.0 283.6C1273.3 291.1 1275.1 300.5 1277.0 309.5C1279.1 319.1 1281.0 328.9 1282.9 339.3C1285.0 350.7 1287.0 364.0 1288.9 375.1C1290.5 384.7 1291.9 393.0 1293.4 402.0C1294.9 410.9 1296.4 419.9 1297.9 428.8" fill="none" stroke="#1262f2" stroke-width="2.0" stroke-linejoin="round" stroke-linecap="round"/>
<path d="M818.0 356.0C819.3 344.0 820.6 331.4 822.0 320.0C823.3 309.5 824.5 300.6 825.9 290.0C827.5 277.9 828.6 262.1 831.0 251.3C832.7 243.4 834.2 235.6 837.3 231.0C839.4 227.9 841.6 226.1 844.9 224.7C849.4 222.8 856.1 223.2 862.6 222.8C870.5 222.4 880.0 222.7 888.7 222.6C897.4 222.6 906.1 222.5 914.9 222.5C923.6 222.4 932.3 222.3 941.0 222.3C949.7 222.2 958.4 222.2 967.1 222.1C975.8 222.1 984.5 222.0 993.2 221.9C1001.9 221.9 1010.7 221.8 1019.4 221.8C1028.1 221.7 1036.8 221.6 1045.5 221.6C1054.2 221.5 1062.9 221.5 1071.6 221.4C1080.3 221.4 1089.0 221.3 1097.7 221.2C1106.5 221.2 1115.2 221.1 1123.9 221.1C1132.6 221.0 1141.3 221.1 1150.0 220.9C1158.7 220.7 1166.3 220.8 1176.2 220.0C1189.2 219.0 1208.4 217.5 1221.4 214.6C1231.7 212.3 1241.2 209.7 1248.5 205.5C1254.5 202.1 1259.4 198.1 1263.0 192.9C1266.8 187.4 1268.3 180.4 1270.2 173.0C1272.4 164.3 1273.4 154.5 1274.7 144.0C1276.2 131.8 1277.2 117.5 1278.3 104.2C1279.3 91.0 1280.1 77.7 1281.0 64.5" fill="none" stroke="#b066f2" stroke-width="2.0" stroke-linejoin="round" stroke-linecap="round"/>
<path d="M818.5 134.9C819.3 143.3 819.8 151.4 821.0 160.0C822.2 169.1 824.3 178.3 825.9 188.0C827.6 198.5 828.4 212.7 831.0 220.9C832.7 226.3 834.0 231.0 837.3 233.5C840.4 235.9 844.5 235.5 850.0 236.1C859.6 237.1 878.1 236.3 890.0 236.4C899.7 236.5 907.5 236.6 916.2 236.6C925.0 236.7 933.8 236.8 942.5 236.9C951.2 237.0 960.0 237.0 968.8 237.1C977.5 237.2 986.2 237.3 995.0 237.4C1003.8 237.4 1012.5 237.5 1021.2 237.6C1030.0 237.7 1038.8 237.7 1047.5 237.8C1056.2 237.9 1065.0 238.0 1073.8 238.1C1082.5 238.1 1091.0 238.1 1100.0 238.3C1109.6 238.5 1119.9 238.8 1129.8 239.1C1139.8 239.4 1149.1 239.1 1159.7 239.9C1172.0 240.8 1187.9 242.3 1199.4 244.9C1208.5 247.0 1216.3 249.5 1223.3 252.8C1229.3 255.6 1234.5 258.9 1239.2 262.8C1243.7 266.6 1247.8 270.9 1251.1 275.7C1254.4 280.5 1256.8 286.1 1259.1 291.6C1261.5 297.3 1263.2 302.7 1265.0 309.5C1267.3 318.1 1269.1 328.9 1271.0 339.3C1273.1 350.7 1275.3 364.0 1277.0 375.1C1278.5 384.7 1279.6 393.0 1281.0 402.0C1282.3 410.9 1283.6 419.9 1284.9 428.8" fill="none" stroke="#b066f2" stroke-width="2.0" stroke-linejoin="round" stroke-linecap="round"/>
<path d="M818.0 317.0C819.8 308.0 821.9 299.8 823.4 290.0C825.1 278.3 825.3 261.9 827.2 251.3C828.6 243.8 830.0 237.3 832.3 232.3C834.0 228.6 835.8 225.5 838.6 223.4C841.6 221.2 845.3 220.4 850.0 219.6C857.1 218.4 868.4 219.6 877.6 219.6C886.9 219.5 896.1 219.5 905.3 219.5C914.5 219.5 923.7 219.5 933.0 219.4C942.2 219.4 951.4 219.4 960.6 219.4C969.8 219.4 979.0 219.4 988.2 219.4C997.5 219.3 1006.4 219.4 1015.9 219.3C1025.9 219.2 1036.6 219.1 1046.9 219.0C1057.3 218.9 1067.6 218.8 1078.0 218.8C1088.3 218.7 1098.6 218.6 1109.0 218.5C1119.3 218.4 1130.0 218.7 1140.0 218.2C1149.4 217.7 1158.1 216.4 1167.1 215.4C1176.1 214.5 1184.9 214.7 1194.2 212.7C1204.7 210.5 1217.9 207.0 1226.8 201.9C1234.3 197.6 1240.0 191.8 1244.9 185.6C1249.6 179.7 1252.8 173.2 1255.7 165.7C1259.0 157.1 1261.0 147.3 1263.0 136.8C1265.4 124.7 1267.0 109.7 1268.4 97.0C1269.7 85.4 1270.2 74.7 1271.1 63.6" fill="none" stroke="#1ecfcf" stroke-width="2.0" stroke-linejoin="round" stroke-linecap="round"/>
<path d="M818.0 157.7C820.2 169.9 822.7 182.5 824.7 194.3C826.6 205.2 826.6 218.5 829.7 225.9C831.7 230.6 833.9 234.0 837.3 236.1C840.7 238.2 844.6 238.0 850.0 238.6C859.6 239.6 878.2 238.8 890.0 238.9C899.4 239.0 906.8 239.1 915.2 239.2C923.6 239.3 932.0 239.4 940.4 239.5C948.8 239.6 957.1 239.7 965.5 239.8C973.9 239.9 982.3 240.0 990.7 240.1C999.1 240.2 1007.3 240.3 1015.9 240.4C1025.0 240.5 1034.6 240.7 1043.9 240.9C1053.3 241.1 1062.6 241.2 1072.0 241.4C1081.3 241.6 1090.5 241.5 1100.0 241.9C1109.8 242.3 1119.9 243.2 1129.8 243.9C1139.8 244.6 1149.8 244.6 1159.7 245.9C1169.7 247.2 1180.5 248.9 1189.5 251.8C1197.5 254.4 1204.9 257.9 1211.4 261.8C1217.3 265.3 1222.6 269.3 1227.3 273.7C1231.8 277.9 1235.6 282.5 1239.2 287.6C1243.0 293.0 1246.2 299.1 1249.1 305.5C1252.2 312.3 1254.9 319.6 1257.1 327.4C1259.6 336.0 1261.1 345.5 1263.0 355.2C1265.1 365.9 1267.2 377.2 1269.0 389.0C1270.9 401.7 1272.3 415.5 1274.0 428.8" fill="none" stroke="#1ecfcf" stroke-width="2.0" stroke-linejoin="round" stroke-linecap="round"/>
<path d="M819.0 241.1C822.2 237.3 826.0 233.9 828.5 229.7C831.0 225.5 830.5 218.8 834.2 215.8C838.6 212.2 847.0 212.7 855.0 212.0C865.5 211.1 879.7 212.2 892.0 212.3C904.3 212.4 916.5 212.4 928.8 212.4C941.0 212.4 954.4 212.6 965.5 212.5C974.7 212.4 982.3 212.1 990.7 211.9C999.1 211.7 1007.5 211.6 1015.9 211.4C1024.3 211.2 1032.2 211.1 1041.1 210.8C1051.0 210.5 1062.1 210.0 1072.5 209.6C1083.0 209.1 1093.2 208.9 1104.0 208.3C1115.6 207.6 1128.0 207.1 1140.0 205.5C1152.1 203.8 1165.6 201.8 1176.2 198.3C1185.1 195.4 1192.9 191.9 1199.7 187.4C1206.0 183.3 1211.3 178.6 1216.0 173.0C1220.9 167.2 1225.0 160.0 1228.6 153.1C1232.2 146.2 1234.9 138.7 1237.6 131.4C1240.3 124.2 1242.9 117.1 1244.9 109.7C1246.9 102.1 1248.3 94.0 1249.4 86.2C1250.4 78.6 1250.6 71.1 1251.2 63.6" fill="none" stroke="#8c8c00" stroke-width="2.0" stroke-linejoin="round" stroke-linecap="round"/>
<path d="M819.0 196.8C821.3 199.8 824.2 202.1 825.9 205.7C827.8 209.9 827.5 215.7 829.1 220.9C830.8 226.6 832.7 234.5 836.1 238.6C838.8 241.8 841.3 243.4 846.2 244.9C855.7 247.8 878.2 246.4 892.0 246.8C903.3 247.1 912.6 247.1 923.0 247.2C933.3 247.4 943.6 247.5 954.0 247.7C964.3 247.8 974.6 248.0 984.9 248.2C995.2 248.3 1005.5 248.2 1015.9 248.6C1026.4 249.0 1036.9 249.9 1047.4 250.6C1057.9 251.2 1069.0 251.7 1078.9 252.5C1087.8 253.2 1095.9 254.3 1104.3 255.2C1112.8 256.0 1121.0 256.2 1129.8 257.8C1139.4 259.6 1150.5 262.2 1159.7 265.7C1168.3 269.0 1176.1 273.0 1183.5 277.7C1190.7 282.3 1197.4 287.6 1203.4 293.6C1209.4 299.6 1214.7 306.3 1219.3 313.5C1224.0 320.9 1227.6 329.1 1231.2 337.3C1234.9 345.7 1238.5 354.9 1241.2 363.2C1243.7 370.7 1245.2 377.6 1247.1 385.0C1249.1 392.8 1251.1 401.1 1253.1 408.9C1255.1 416.4 1257.1 423.5 1259.1 430.8" fill="none" stroke="#8c8c00" stroke-width="2.0" stroke-linejoin="round" stroke-linecap="round"/>
<path d="M819.0 204.4C825.1 204.2 831.1 204.2 837.3 203.8C843.6 203.4 849.1 202.5 856.3 202.2C865.9 201.9 879.6 202.6 890.0 202.7C899.0 202.7 906.8 202.6 915.2 202.6C923.6 202.6 931.9 202.5 940.3 202.5C948.7 202.5 957.1 202.5 965.5 202.4C973.9 202.3 982.3 201.9 990.7 201.6C999.1 201.3 1007.5 201.2 1015.9 200.8C1024.3 200.3 1032.7 199.5 1041.1 198.9C1049.5 198.3 1057.1 198.2 1066.3 197.0C1077.6 195.5 1091.6 192.6 1104.0 190.1C1116.2 187.6 1129.0 185.8 1140.0 182.0C1149.9 178.6 1159.2 174.2 1167.1 169.3C1174.0 165.0 1179.8 160.3 1185.2 154.9C1190.6 149.5 1195.7 141.8 1199.7 136.8C1202.5 133.3 1204.8 131.1 1206.9 127.8C1209.0 124.4 1210.4 120.8 1212.3 116.9C1214.5 112.4 1217.9 107.5 1219.6 102.4C1221.3 97.3 1221.0 91.2 1222.3 86.2C1223.5 81.7 1225.7 77.7 1226.8 73.5C1227.8 69.6 1228.0 65.7 1228.6 61.8" fill="none" stroke="#4a8ad2" stroke-width="2.0" stroke-linejoin="round" stroke-linecap="round"/>
<path d="M819.0 238.6C822.7 241.1 826.6 243.5 830.0 246.0C833.1 248.3 834.6 251.6 838.6 253.2C844.8 255.7 856.4 254.2 865.3 254.8C874.2 255.3 882.6 255.9 892.0 256.3C902.4 256.8 913.9 257.0 924.9 257.3C935.9 257.6 946.8 258.0 957.8 258.3C968.8 258.6 980.5 258.6 990.7 259.3C999.7 259.9 1007.5 261.0 1015.9 261.8C1024.3 262.7 1032.7 263.5 1041.1 264.4C1049.5 265.2 1057.3 265.7 1066.3 266.9C1076.7 268.3 1089.2 269.8 1100.0 272.7C1110.4 275.5 1120.0 279.2 1129.8 283.6C1139.9 288.1 1150.7 293.1 1159.7 299.5C1168.5 305.8 1176.7 313.7 1183.5 321.4C1189.7 328.4 1194.6 336.1 1199.4 343.3C1203.8 350.0 1207.7 356.5 1211.4 363.2C1215.0 369.8 1218.3 376.4 1221.3 383.1C1224.2 389.7 1227.1 395.8 1229.3 402.9C1231.8 410.9 1233.2 420.2 1235.2 428.8" fill="none" stroke="#4a8ad2" stroke-width="2.0" stroke-linejoin="round" stroke-linecap="round"/>
<path d="M1502.0 300.0C1502.2 290.0 1502.3 280.0 1502.5 270.0C1502.7 260.0 1502.4 248.3 1503.0 240.0C1503.4 234.1 1503.7 228.4 1505.0 225.0C1505.8 222.9 1506.7 221.3 1508.0 220.5C1509.1 219.8 1509.9 220.0 1511.7 219.8C1516.5 219.4 1529.6 219.9 1538.6 220.0C1547.6 220.0 1556.5 220.1 1565.5 220.1C1574.5 220.2 1583.4 220.3 1592.4 220.3C1601.4 220.4 1610.3 220.4 1619.3 220.5C1628.3 220.5 1637.2 220.6 1646.2 220.7C1655.2 220.7 1664.1 220.8 1673.1 220.8C1682.1 220.9 1690.8 221.0 1700.0 221.0C1709.7 220.9 1719.9 220.7 1729.8 220.5C1739.8 220.3 1749.5 220.1 1759.7 220.0C1770.5 219.9 1781.8 219.8 1792.8 219.7C1803.9 219.6 1814.9 219.4 1826.0 219.3C1837.0 219.2 1848.5 219.2 1859.1 219.0C1868.8 218.8 1877.7 218.3 1886.9 218.0C1896.2 217.7 1906.6 218.0 1914.8 217.0C1921.5 216.2 1928.7 216.0 1932.7 213.1C1935.9 210.8 1937.2 207.3 1938.7 203.1C1940.8 197.0 1941.0 187.7 1941.7 179.3C1942.5 169.9 1942.6 159.4 1943.0 149.4C1943.4 139.5 1943.9 129.4 1944.3 119.6C1944.7 110.1 1944.9 100.9 1945.2 91.5C1945.5 82.2 1945.8 72.8 1946.1 63.5" fill="none" stroke="#000000" stroke-width="2.2" stroke-linejoin="round" stroke-linecap="round"/>
<path d="M1502.0 120.0C1502.1 128.9 1502.2 137.8 1502.3 146.7C1502.4 155.6 1502.6 164.4 1502.7 173.3C1502.8 182.2 1502.7 190.6 1503.0 200.0C1503.3 210.6 1499.0 228.4 1504.5 233.6C1509.3 238.2 1521.6 233.6 1530.2 233.6C1538.8 233.6 1547.3 233.6 1555.9 233.6C1564.4 233.6 1573.0 233.6 1581.6 233.6C1590.1 233.6 1598.7 233.6 1607.2 233.6C1615.8 233.6 1624.4 233.6 1632.9 233.6C1641.5 233.6 1650.1 233.6 1658.6 233.6C1667.2 233.6 1675.8 233.6 1684.3 233.6C1692.9 233.6 1701.5 233.6 1710.0 233.6C1718.4 233.6 1726.7 233.6 1735.0 233.6C1743.3 233.5 1751.1 233.4 1760.0 233.5C1770.3 233.6 1782.1 234.0 1793.2 234.3C1804.2 234.6 1815.3 234.8 1826.3 235.1C1837.4 235.4 1848.3 235.1 1859.5 235.9C1871.2 236.7 1886.7 237.4 1895.3 239.9C1900.5 241.5 1904.2 242.8 1907.2 245.9C1910.3 249.2 1911.5 254.2 1913.2 259.8C1915.7 267.8 1917.6 280.1 1919.1 289.6C1920.5 298.2 1921.1 306.2 1922.1 314.5C1923.1 322.8 1924.1 329.7 1925.1 339.4C1926.5 353.1 1928.1 374.0 1929.1 389.1C1930.0 401.7 1930.4 412.3 1931.1 423.9" fill="none" stroke="#000000" stroke-width="2.2" stroke-linejoin="round" stroke-linecap="round"/>
<path d="M1502.1 365.6C1502.2 354.7 1502.2 343.7 1502.3 332.8C1502.4 321.9 1502.4 310.9 1502.5 300.0C1502.6 289.1 1502.8 278.3 1503.0 267.5C1503.2 256.7 1502.7 243.7 1503.5 235.0C1504.0 229.0 1504.2 222.9 1506.0 220.0C1507.0 218.3 1507.8 217.7 1509.9 217.0C1514.7 215.4 1528.0 217.0 1537.1 217.0C1546.1 217.0 1555.2 217.0 1564.2 217.0C1573.3 217.0 1582.3 217.0 1591.4 217.0C1600.4 217.0 1609.5 217.0 1618.5 217.0C1627.6 217.0 1636.6 217.0 1645.7 217.0C1654.7 217.0 1663.8 217.0 1672.8 217.0C1681.9 217.0 1690.7 217.0 1700.0 217.0C1709.7 217.0 1719.9 216.8 1729.8 216.8C1739.8 216.7 1749.8 216.6 1759.7 216.5C1769.7 216.4 1779.6 216.3 1789.6 216.2C1799.5 216.2 1809.7 216.3 1819.4 216.0C1828.5 215.7 1837.1 215.1 1845.9 214.7C1854.7 214.3 1863.6 213.8 1872.4 213.4C1881.2 213.0 1889.4 213.0 1898.9 212.1C1910.0 211.1 1925.7 210.2 1934.7 207.1C1940.7 205.1 1945.1 203.2 1948.7 199.1C1952.8 194.4 1954.7 186.9 1956.6 179.3C1959.0 169.7 1959.0 154.6 1960.0 145.4C1960.7 139.0 1961.4 135.7 1961.9 129.3C1962.7 119.8 1963.2 105.3 1963.7 94.0C1964.2 83.5 1964.5 73.7 1964.9 63.5" fill="none" stroke="#1a66ee" stroke-width="2.2" stroke-linejoin="round" stroke-linecap="round"/>
<path d="M1502.1 183.3C1502.4 195.5 1501.9 210.1 1503.0 220.0C1503.7 226.8 1502.5 234.1 1506.3 237.2C1510.9 241.0 1523.3 237.2 1531.8 237.2C1540.2 237.2 1548.7 237.2 1557.2 237.2C1565.7 237.2 1574.2 237.2 1582.7 237.2C1591.2 237.2 1599.7 237.2 1608.2 237.2C1616.6 237.2 1625.1 237.2 1633.6 237.2C1642.1 237.2 1650.6 237.2 1659.1 237.2C1667.6 237.2 1676.0 237.2 1684.5 237.2C1693.0 237.2 1701.6 237.2 1710.0 237.2C1718.4 237.2 1726.7 237.3 1735.0 237.3C1743.3 237.4 1751.1 237.3 1760.0 237.5C1770.3 237.8 1782.1 238.5 1793.2 239.0C1804.2 239.5 1815.3 239.9 1826.3 240.4C1837.4 240.9 1848.0 240.5 1859.5 241.9C1872.2 243.4 1888.8 246.0 1899.2 249.8C1906.6 252.5 1912.9 254.9 1917.2 259.8C1921.6 264.8 1922.8 272.7 1925.1 279.7C1927.5 287.2 1929.3 294.7 1931.1 303.5C1933.3 314.2 1935.4 327.1 1937.0 339.4C1938.7 352.3 1939.7 365.5 1941.0 379.1C1942.4 393.6 1943.7 409.0 1945.0 423.9" fill="none" stroke="#1a66ee" stroke-width="2.2" stroke-linejoin="round" stroke-linecap="round"/>
<path d="M1501.6 251.6C1502.1 242.7 1501.9 231.8 1503.0 225.0C1503.7 220.7 1504.1 216.4 1506.0 214.5C1507.5 213.1 1509.2 213.3 1512.0 212.9C1517.9 212.1 1530.9 213.0 1540.3 213.0C1549.7 213.1 1559.1 213.1 1568.6 213.1C1578.0 213.2 1587.4 213.2 1596.9 213.2C1606.3 213.3 1615.7 213.3 1625.1 213.4C1634.6 213.4 1644.0 213.4 1653.4 213.5C1662.9 213.5 1672.3 213.5 1681.7 213.6C1691.1 213.6 1699.3 213.7 1710.0 213.7C1724.2 213.6 1745.7 213.4 1759.7 213.1C1769.9 212.9 1777.4 212.6 1786.2 212.3C1795.0 212.0 1803.9 211.8 1812.7 211.5C1821.5 211.2 1830.1 211.3 1839.2 210.7C1848.9 210.1 1859.1 208.8 1869.1 207.9C1879.0 207.0 1889.5 207.6 1898.9 205.1C1908.1 202.6 1918.7 198.6 1924.8 193.2C1929.8 188.8 1932.2 183.7 1934.7 177.3C1937.9 169.1 1939.2 158.6 1940.7 147.4C1942.5 133.4 1942.9 114.5 1943.7 99.7C1944.4 86.8 1944.6 75.6 1945.1 63.5" fill="none" stroke="#b066f2" stroke-width="2.2" stroke-linejoin="round" stroke-linecap="round"/>
<path d="M1502.1 208.6C1502.4 215.7 1502.0 224.0 1503.0 230.0C1503.7 234.5 1503.3 239.2 1506.3 241.5C1510.7 244.8 1523.3 241.6 1531.8 241.6C1540.2 241.7 1548.7 241.7 1557.2 241.8C1565.7 241.8 1574.2 241.9 1582.7 241.9C1591.2 242.0 1599.7 242.0 1608.2 242.1C1616.6 242.1 1625.1 242.1 1633.6 242.2C1642.1 242.2 1650.6 242.3 1659.1 242.3C1667.6 242.4 1676.0 242.4 1684.5 242.5C1693.0 242.5 1701.6 242.6 1710.0 242.6C1718.4 242.6 1726.7 242.5 1735.0 242.4C1743.3 242.4 1751.5 242.0 1760.0 242.3C1768.7 242.6 1777.7 243.5 1786.5 244.1C1795.4 244.7 1804.2 245.4 1813.1 246.0C1821.9 246.6 1829.8 246.1 1839.6 247.8C1852.5 250.0 1871.5 254.6 1883.3 259.8C1892.2 263.7 1899.4 268.1 1905.2 273.7C1910.5 278.8 1913.9 285.1 1917.2 291.6C1920.6 298.3 1922.9 305.5 1925.1 313.5C1927.6 322.6 1929.3 332.9 1931.1 343.3C1933.0 354.7 1934.6 366.5 1936.0 379.1C1937.6 393.2 1938.7 409.0 1940.0 423.9" fill="none" stroke="#b066f2" stroke-width="2.2" stroke-linejoin="round" stroke-linecap="round"/>
<path d="M1502.0 236.0C1502.3 229.0 1501.9 220.5 1503.0 215.0C1503.7 211.3 1504.5 207.7 1506.3 206.0C1507.7 204.7 1509.3 204.9 1512.0 204.6C1517.9 203.9 1531.2 204.8 1540.8 204.8C1550.4 204.9 1560.1 205.0 1569.7 205.1C1579.3 205.1 1589.2 205.3 1598.5 205.3C1607.2 205.3 1615.4 205.2 1623.9 205.2C1632.3 205.1 1640.8 205.1 1649.2 205.0C1657.7 204.9 1666.2 204.9 1674.6 204.8C1683.1 204.8 1691.2 204.8 1700.0 204.7C1709.5 204.5 1719.9 204.2 1729.8 203.9C1739.8 203.6 1749.8 203.5 1759.7 203.1C1769.7 202.7 1779.6 202.1 1789.6 201.6C1799.5 201.1 1809.5 200.9 1819.4 200.1C1829.4 199.3 1839.3 197.8 1849.2 196.6C1859.1 195.5 1869.2 195.7 1879.0 193.2C1889.1 190.6 1901.0 186.8 1908.9 181.2C1915.7 176.4 1920.7 170.4 1924.8 163.3C1929.3 155.4 1931.4 145.5 1933.7 135.5C1936.2 124.4 1937.4 111.7 1938.7 99.7C1940.0 87.7 1940.7 75.6 1941.7 63.5" fill="none" stroke="#1ecfcf" stroke-width="2.2" stroke-linejoin="round" stroke-linecap="round"/>
<path d="M1502.0 215.0C1502.3 221.7 1502.1 229.2 1503.0 235.0C1503.7 239.7 1504.2 245.4 1506.3 247.5C1507.7 248.9 1509.3 248.6 1512.0 249.0C1517.9 249.8 1531.2 249.2 1540.8 249.3C1550.4 249.4 1560.1 249.6 1569.7 249.7C1579.3 249.8 1589.0 249.9 1598.5 250.0C1607.9 250.1 1617.1 250.3 1626.4 250.4C1635.7 250.5 1645.0 250.7 1654.2 250.8C1663.5 250.9 1672.8 251.1 1682.1 251.2C1691.4 251.3 1701.0 251.2 1710.0 251.6C1718.6 251.9 1726.7 252.7 1735.0 253.2C1743.3 253.7 1751.3 254.1 1760.0 254.8C1769.5 255.6 1779.9 256.8 1789.8 257.8C1799.8 258.8 1809.4 258.7 1819.7 260.8C1831.2 263.1 1845.2 266.5 1855.5 271.7C1864.7 276.4 1872.6 283.0 1879.4 289.6C1885.7 295.7 1891.0 302.1 1895.3 309.5C1899.7 317.3 1902.3 326.1 1905.2 335.4C1908.4 345.8 1911.0 358.3 1913.2 369.2C1915.2 379.4 1916.8 389.5 1918.1 399.0C1919.3 407.7 1919.8 415.6 1920.7 423.9" fill="none" stroke="#1ecfcf" stroke-width="2.2" stroke-linejoin="round" stroke-linecap="round"/>
<path d="M1502.0 186.0C1502.5 185.2 1502.4 184.2 1503.5 183.6C1507.2 181.5 1524.6 183.6 1535.2 183.6C1545.7 183.6 1556.3 183.6 1566.8 183.6C1577.4 183.6 1588.5 183.7 1598.5 183.6C1607.4 183.5 1615.4 183.2 1623.9 183.0C1632.3 182.8 1640.8 182.6 1649.2 182.4C1657.7 182.2 1666.2 182.0 1674.6 181.8C1683.1 181.6 1690.6 181.5 1700.0 181.2C1711.8 180.8 1726.6 180.4 1739.8 179.3C1753.1 178.1 1766.4 176.6 1779.6 174.3C1792.9 172.0 1807.0 169.0 1819.4 165.3C1830.7 161.9 1841.9 158.4 1851.2 153.4C1859.5 148.9 1867.0 143.4 1873.1 137.5C1878.7 132.1 1883.1 126.3 1887.0 119.6C1891.2 112.5 1894.2 103.4 1896.9 95.7C1899.4 88.8 1901.1 81.8 1902.9 75.8C1904.4 70.8 1905.6 66.5 1906.9 61.9" fill="none" stroke="#8c8c00" stroke-width="2.2" stroke-linejoin="round" stroke-linecap="round"/>
<path d="M1502.7 267.2C1513.3 267.9 1524.0 268.6 1534.6 269.3C1545.3 270.0 1555.9 270.6 1566.6 271.3C1577.2 272.0 1588.2 272.7 1598.5 273.4C1608.1 274.0 1617.1 274.6 1626.4 275.2C1635.7 275.8 1645.0 276.4 1654.2 277.0C1663.5 277.6 1672.8 278.2 1682.1 278.8C1691.4 279.4 1701.0 279.3 1710.0 280.6C1718.6 281.8 1726.7 284.3 1735.0 286.1C1743.3 287.9 1750.8 288.8 1760.0 291.6C1771.9 295.2 1788.4 301.0 1799.8 307.5C1809.8 313.2 1818.2 319.9 1825.6 327.4C1832.7 334.6 1838.2 343.0 1843.5 351.3C1848.8 359.6 1854.1 369.2 1857.5 377.2C1860.3 383.6 1861.3 389.2 1863.4 395.1C1865.6 401.1 1868.6 407.7 1870.4 413.0C1871.7 417.0 1872.4 420.3 1873.4 423.9" fill="none" stroke="#8c8c00" stroke-width="2.2" stroke-linejoin="round" stroke-linecap="round"/>
<path d="M1502.7 151.4C1512.7 151.7 1522.6 151.9 1532.6 152.2C1542.5 152.4 1552.0 153.0 1562.4 152.9C1573.9 152.8 1587.3 152.1 1598.5 151.4C1608.2 150.8 1616.6 149.8 1625.7 149.1C1634.7 148.3 1642.5 147.5 1652.8 146.7C1666.4 145.7 1687.0 145.6 1700.0 143.8C1709.4 142.5 1715.8 140.5 1723.9 138.5C1732.4 136.4 1741.2 134.3 1749.7 131.5C1758.4 128.7 1768.1 124.9 1775.6 121.6C1781.6 118.9 1786.5 116.6 1791.5 113.6C1796.4 110.6 1801.3 107.2 1805.4 103.7C1809.2 100.5 1812.4 97.3 1815.4 93.7C1818.4 90.0 1820.7 85.2 1823.3 81.8C1825.4 79.1 1828.0 77.3 1829.3 74.8C1830.5 72.6 1830.3 69.9 1831.3 67.8C1832.3 65.8 1834.0 64.1 1835.3 62.3" fill="none" stroke="#4a8ad2" stroke-width="2.2" stroke-linejoin="round" stroke-linecap="round"/>
<path d="M1502.7 302.3C1511.3 302.9 1520.0 303.5 1528.6 304.1C1537.2 304.7 1545.9 305.3 1554.5 305.9C1563.1 306.5 1571.7 306.7 1580.4 307.7C1589.4 308.8 1598.5 310.7 1607.6 312.2C1616.6 313.8 1625.0 314.8 1634.7 316.8C1645.9 319.1 1658.6 322.6 1670.9 325.8C1683.7 329.2 1698.0 332.0 1710.0 336.7C1720.9 340.9 1731.1 346.8 1740.0 352.0C1747.5 356.4 1754.2 360.8 1760.0 365.2C1764.8 368.8 1769.1 372.2 1772.7 376.0C1776.0 379.5 1778.5 383.4 1781.0 387.0C1783.3 390.4 1785.3 394.2 1787.0 397.0C1788.2 399.0 1788.7 400.1 1790.0 402.0C1791.8 404.7 1794.8 407.9 1796.8 411.3C1798.9 415.0 1800.4 419.6 1802.2 423.7" fill="none" stroke="#4a8ad2" stroke-width="2.2" stroke-linejoin="round" stroke-linecap="round"/>
<path d="M152.2 822.0C163.1 822.0 173.9 821.9 184.8 821.9C195.7 821.8 206.5 821.8 217.4 821.7C228.3 821.7 239.9 821.6 250.0 821.6C258.9 821.6 266.7 821.5 275.0 821.5C283.3 821.5 291.7 821.4 300.0 821.4C308.3 821.4 316.7 821.3 325.0 821.3C333.3 821.3 341.7 821.3 350.0 821.2C358.3 821.1 366.7 820.9 375.0 820.8C383.3 820.6 392.2 820.9 400.0 820.3C407.0 819.7 414.6 819.5 419.9 817.5C424.0 816.0 427.3 813.9 429.9 811.0C432.7 807.9 434.2 803.4 435.8 799.1C437.6 794.3 438.5 789.1 439.8 783.2C441.4 776.1 443.4 766.1 444.8 759.3C445.8 754.2 446.4 749.2 447.5 746.0C448.2 744.0 449.0 741.4 449.8 741.4C450.5 741.4 451.2 743.3 451.8 745.0C452.8 748.1 453.0 753.3 453.7 759.3C454.9 769.2 455.4 788.5 457.7 799.1C459.3 806.3 460.5 813.7 463.7 817.0C465.8 819.2 467.8 819.3 471.6 820.0C480.8 821.8 506.3 820.7 520.0 820.8C530.1 820.9 537.5 820.8 546.3 820.8C555.1 820.8 563.8 820.8 572.6 820.8C581.4 820.8 590.1 820.8 598.9 820.8C607.7 820.8 616.4 820.8 625.2 820.8C634.0 820.8 642.7 820.8 651.5 820.8" fill="none" stroke="#404040" stroke-width="1.8" stroke-linejoin="round" stroke-linecap="round"/>
<path d="M651.5 822.0C643.1 822.0 634.7 822.0 626.2 822.0C617.8 822.0 609.4 822.1 601.0 822.1C592.6 822.1 584.2 822.1 575.8 822.1C567.3 822.1 558.9 822.1 550.5 822.1C542.1 822.1 533.7 822.2 525.2 822.2C516.8 822.2 509.0 822.2 500.0 822.2C489.7 822.2 477.9 822.2 466.9 822.2C455.8 822.1 442.1 821.1 433.7 822.1C428.4 822.8 424.2 822.9 421.0 825.3C417.9 827.7 416.4 831.9 414.7 836.2C412.5 841.7 411.8 849.4 410.2 856.0C408.5 862.6 406.6 870.8 404.8 875.9C403.6 879.3 402.3 884.1 401.1 884.1C399.9 884.1 398.5 879.4 397.5 875.9C395.9 870.5 395.4 861.2 393.9 854.2C392.4 847.4 391.2 839.3 388.5 834.4C386.5 830.8 384.2 828.0 381.2 826.2C378.2 824.4 375.1 824.2 370.4 823.5C361.9 822.3 345.4 822.4 334.2 822.1C324.5 821.8 316.1 821.8 307.1 821.7C298.1 821.6 288.9 821.3 280.0 821.3C271.4 821.3 263.0 821.4 254.4 821.4C245.9 821.5 237.4 821.5 228.9 821.6C220.4 821.6 211.8 821.7 203.3 821.7C194.8 821.8 186.3 821.8 177.8 821.9C169.2 821.9 160.7 822.0 152.2 822.0" fill="none" stroke="#404040" stroke-width="1.8" stroke-linejoin="round" stroke-linecap="round"/>
<path d="M152.2 822.0C163.1 822.0 173.9 821.9 184.8 821.9C195.7 821.8 206.5 821.8 217.4 821.7C228.3 821.7 239.9 821.6 250.0 821.6C258.9 821.6 266.7 821.5 275.0 821.5C283.3 821.5 291.7 821.4 300.0 821.4C308.3 821.4 316.7 821.3 325.0 821.3C333.3 821.3 341.7 821.3 350.0 821.2C358.3 821.1 366.7 820.9 375.0 820.8C383.3 820.6 392.2 820.9 400.0 820.3C407.0 819.7 414.6 819.5 419.9 817.5C424.0 816.0 427.3 813.9 429.9 811.0C432.7 807.9 434.2 803.4 435.8 799.1C437.6 794.3 438.7 789.1 439.8 783.2C441.1 776.1 441.8 766.8 442.8 759.3C443.7 752.5 444.4 746.2 445.3 740.0C446.1 734.3 446.9 729.1 447.8 723.5C448.7 717.8 449.6 710.1 450.5 706.0C451.0 703.7 451.5 700.6 452.1 700.6C452.7 700.6 453.4 703.0 454.0 705.0C455.1 709.0 455.9 716.3 456.7 723.5C457.8 733.5 458.5 747.9 459.7 759.3C460.8 769.7 461.8 780.3 463.7 789.2C465.3 796.6 466.5 804.1 469.7 809.1C472.2 813.1 476.0 816.2 479.6 818.0C482.7 819.6 485.5 819.6 489.6 820.0C496.1 820.7 506.4 820.2 514.8 820.3C523.2 820.4 531.4 820.5 540.0 820.6C549.1 820.7 558.6 820.6 567.9 820.6C577.2 820.7 586.5 820.7 595.8 820.7C605.0 820.7 614.3 820.7 623.6 820.8C632.9 820.8 642.2 820.8 651.5 820.8" fill="none" stroke="#f5333f" stroke-width="1.8" stroke-linejoin="round" stroke-linecap="round"/>
<path d="M651.5 822.2C643.1 822.2 634.7 822.2 626.2 822.2C617.8 822.2 609.4 822.3 601.0 822.3C592.6 822.3 584.2 822.3 575.8 822.3C567.3 822.3 558.9 822.3 550.5 822.3C542.1 822.3 533.7 822.4 525.2 822.4C516.8 822.4 508.9 822.4 500.0 822.4C490.1 822.4 479.1 822.5 468.6 822.5C458.2 822.5 444.1 822.2 437.3 822.6C434.0 822.8 432.5 822.9 430.0 823.5C427.1 824.1 423.2 825.0 421.0 826.5C419.3 827.6 418.4 828.7 417.4 830.7C415.7 834.0 414.9 840.1 413.8 845.2C412.5 850.9 411.4 857.3 410.2 863.3C409.0 869.3 407.8 875.2 406.6 881.4C405.4 887.8 404.2 894.9 402.9 901.2C401.7 907.0 400.6 913.7 399.3 918.0C398.4 920.8 397.5 924.8 396.6 924.8C395.9 924.8 395.2 921.8 394.5 920.0C393.7 917.7 392.9 915.5 392.1 912.1C390.8 906.1 389.7 895.4 388.5 886.8C387.3 877.9 386.6 868.0 384.9 859.7C383.4 852.5 382.2 845.2 379.4 839.8C377.1 835.3 374.4 831.5 370.4 828.9C365.7 826.0 359.4 825.5 352.3 824.4C342.4 822.9 328.2 823.0 316.2 822.6C304.1 822.2 291.0 822.2 280.0 822.1C270.7 822.0 263.0 822.1 254.4 822.1C245.9 822.1 237.4 822.1 228.9 822.1C220.4 822.1 211.8 822.2 203.3 822.2C194.8 822.2 186.3 822.2 177.8 822.2C169.2 822.2 160.7 822.2 152.2 822.2" fill="none" stroke="#f5333f" stroke-width="1.8" stroke-linejoin="round" stroke-linecap="round"/>
<path d="M152.2 822.0C163.1 822.0 173.9 821.9 184.8 821.9C195.7 821.8 206.5 821.8 217.4 821.7C228.3 821.7 239.9 821.6 250.0 821.6C258.9 821.6 266.7 821.5 275.0 821.5C283.3 821.5 291.7 821.4 300.0 821.4C308.3 821.4 316.7 821.3 325.0 821.3C333.3 821.3 341.7 821.3 350.0 821.2C358.3 821.1 366.7 820.9 375.0 820.8C383.3 820.6 392.2 820.9 400.0 820.3C407.0 819.7 414.6 819.5 419.9 817.5C424.0 816.0 427.3 813.9 429.9 811.0C432.7 807.9 434.2 803.4 435.8 799.1C437.6 794.3 438.7 789.1 439.8 783.2C441.1 776.1 441.9 768.1 442.8 759.3C443.9 748.6 444.6 735.1 445.8 723.5C446.9 712.5 448.4 700.0 449.8 691.6C450.7 686.1 451.5 681.4 452.5 678.0C453.2 675.8 453.9 672.8 454.7 672.7C455.4 672.6 456.3 674.4 457.0 676.0C458.2 678.9 458.9 684.4 459.7 689.7C460.8 696.7 461.7 706.3 462.7 714.5C463.7 722.8 464.5 730.2 465.7 739.4C467.3 751.1 468.9 767.7 471.6 779.2C473.8 788.3 475.9 796.5 479.6 803.1C482.8 808.7 487.0 814.2 491.5 817.0C495.2 819.3 498.6 819.4 503.5 820.0C510.9 821.0 522.3 820.2 531.8 820.4C541.2 820.5 550.4 820.6 560.0 820.7C570.0 820.8 580.3 820.7 590.5 820.7C600.7 820.7 610.8 820.8 621.0 820.8C631.2 820.8 641.3 820.8 651.5 820.8" fill="none" stroke="#1f6fe5" stroke-width="1.8" stroke-linejoin="round" stroke-linecap="round"/>
<path d="M651.5 822.3C643.1 822.3 634.7 822.3 626.2 822.3C617.8 822.3 609.4 822.4 601.0 822.4C592.6 822.4 584.2 822.4 575.8 822.4C567.3 822.4 558.9 822.4 550.5 822.4C542.1 822.4 533.7 822.5 525.2 822.5C516.8 822.5 508.9 822.5 500.0 822.5C490.1 822.5 479.1 822.5 468.6 822.5C458.2 822.6 444.1 822.2 437.3 822.6C434.0 822.8 432.5 822.9 430.0 823.5C427.1 824.1 423.2 825.0 421.0 826.5C419.3 827.6 418.4 828.7 417.4 830.7C415.7 834.0 414.9 840.1 413.8 845.2C412.5 850.9 411.4 857.3 410.2 863.3C409.0 869.3 407.8 875.2 406.6 881.4C405.4 887.8 404.1 894.4 402.9 901.2C401.7 908.3 400.5 915.7 399.3 922.9C398.1 930.1 397.0 938.8 395.7 944.6C394.8 948.6 394.1 954.5 393.0 954.6C392.2 954.7 391.2 951.6 390.5 950.0C389.7 948.3 389.2 947.2 388.5 944.6C386.8 937.9 384.9 920.5 383.1 908.5C381.3 896.4 379.9 883.4 377.6 872.3C375.6 862.6 373.7 852.3 370.4 845.2C367.9 839.9 365.6 835.6 361.4 832.5C356.8 829.0 350.5 827.7 343.3 826.2C333.4 824.1 318.3 824.1 307.1 823.5C297.4 823.0 288.9 822.8 280.0 822.6C271.4 822.4 263.0 822.6 254.4 822.5C245.9 822.5 237.4 822.5 228.9 822.5C220.4 822.5 211.8 822.4 203.3 822.4C194.8 822.4 186.3 822.4 177.8 822.4C169.2 822.3 160.7 822.3 152.2 822.3" fill="none" stroke="#1f6fe5" stroke-width="1.8" stroke-linejoin="round" stroke-linecap="round"/>
<path d="M152.2 822.0C163.1 822.0 173.9 821.9 184.8 821.9C195.7 821.8 206.5 821.8 217.4 821.7C228.3 821.7 239.9 821.6 250.0 821.6C258.9 821.6 266.7 821.5 275.0 821.5C283.3 821.5 291.7 821.4 300.0 821.4C308.3 821.4 316.7 821.3 325.0 821.3C333.3 821.3 341.7 821.3 350.0 821.2C358.3 821.1 366.7 820.9 375.0 820.8C383.3 820.6 392.2 820.9 400.0 820.3C407.0 819.7 414.6 819.5 419.9 817.5C424.0 816.0 427.3 813.9 429.9 811.0C432.7 807.9 434.2 803.4 435.8 799.1C437.6 794.3 438.7 789.1 439.8 783.2C441.1 776.1 441.9 768.1 442.8 759.3C443.9 748.6 444.4 734.7 445.8 723.5C447.1 713.6 449.2 704.5 450.7 695.6C452.1 687.3 453.3 677.9 454.7 671.7C455.6 667.7 456.5 664.2 457.5 662.0C458.1 660.8 458.6 659.4 459.3 659.4C460.0 659.4 460.9 660.8 461.5 662.0C462.5 663.8 462.9 666.2 463.7 669.8C465.4 677.9 467.9 697.9 469.7 709.6C471.1 718.9 472.3 726.2 473.6 734.5C475.0 742.7 475.8 750.4 477.6 759.3C479.7 769.7 482.0 783.8 485.6 793.1C488.4 800.2 491.0 806.6 495.5 811.0C499.7 815.1 504.4 817.2 511.4 819.0C523.0 821.9 545.7 820.3 560.0 820.5C571.3 820.7 580.3 820.6 590.5 820.6C600.7 820.6 610.8 820.7 621.0 820.7C631.2 820.7 641.3 820.8 651.5 820.8" fill="none" stroke="#1e9e57" stroke-width="1.8" stroke-linejoin="round" stroke-linecap="round"/>
<path d="M651.5 822.4C643.1 822.4 634.7 822.4 626.2 822.4C617.8 822.4 609.4 822.5 601.0 822.5C592.6 822.5 584.2 822.5 575.8 822.5C567.3 822.5 558.9 822.5 550.5 822.5C542.1 822.5 533.7 822.6 525.2 822.6C516.8 822.6 508.9 822.6 500.0 822.6C490.1 822.6 479.1 822.6 468.6 822.6C458.2 822.6 444.1 822.2 437.3 822.6C434.0 822.8 432.5 822.9 430.0 823.5C427.1 824.1 423.2 825.0 421.0 826.5C419.3 827.6 418.4 828.7 417.4 830.7C415.7 834.0 414.9 840.1 413.8 845.2C412.5 850.9 411.4 857.3 410.2 863.3C409.0 869.3 407.8 875.2 406.6 881.4C405.4 887.8 404.1 894.4 402.9 901.2C401.7 908.3 400.5 915.7 399.3 922.9C398.1 930.1 397.0 937.7 395.7 944.6C394.5 950.9 393.6 958.8 392.1 962.7C391.3 964.8 390.3 967.2 389.4 967.2C388.6 967.2 387.7 964.5 387.0 963.0C386.2 961.3 385.6 960.0 384.9 957.3C383.2 951.2 381.2 937.3 379.4 926.6C377.5 915.0 376.2 902.1 374.0 890.4C371.9 879.2 370.0 867.0 366.8 857.9C364.3 850.8 361.8 844.6 357.7 839.8C353.9 835.4 349.2 832.2 343.3 829.8C335.9 826.8 325.9 826.3 316.2 825.3C305.0 824.2 291.0 824.2 280.0 823.9C270.7 823.7 263.0 823.7 254.4 823.6C245.9 823.5 237.4 823.4 228.9 823.3C220.4 823.2 211.8 823.1 203.3 823.0C194.8 822.9 186.3 822.8 177.8 822.7C169.2 822.6 160.7 822.5 152.2 822.4" fill="none" stroke="#1e9e57" stroke-width="1.8" stroke-linejoin="round" stroke-linecap="round"/>
<path d="M152.2 822.0C163.1 822.0 173.9 821.9 184.8 821.9C195.7 821.8 206.5 821.8 217.4 821.7C228.3 821.7 239.9 821.6 250.0 821.6C258.9 821.6 266.7 821.5 275.0 821.5C283.3 821.5 291.7 821.4 300.0 821.4C308.3 821.4 316.7 821.3 325.0 821.3C333.3 821.3 341.7 821.3 350.0 821.2C358.3 821.1 366.7 820.9 375.0 820.8C383.3 820.6 392.2 820.9 400.0 820.3C407.0 819.7 414.6 819.5 419.9 817.5C424.0 816.0 427.3 813.9 429.9 811.0C432.7 807.9 434.2 803.4 435.8 799.1C437.6 794.3 438.7 789.1 439.8 783.2C441.1 776.1 441.9 768.1 442.8 759.3C443.9 748.6 444.4 734.7 445.8 723.5C447.1 713.6 449.2 703.6 450.7 695.6C451.8 689.6 452.6 685.6 453.7 679.7C455.1 672.1 457.3 660.4 458.7 653.8C459.6 649.7 460.1 646.4 461.0 644.0C461.6 642.4 462.1 640.4 462.9 640.3C463.6 640.2 464.8 641.8 465.5 643.0C466.5 644.7 466.9 646.6 467.7 649.9C469.5 657.7 471.8 678.0 473.6 689.7C475.0 699.0 476.3 706.3 477.6 714.5C478.9 722.8 479.9 730.2 481.6 739.4C483.7 751.1 486.1 767.8 489.6 779.2C492.4 788.3 495.3 796.8 499.5 803.1C502.9 808.2 506.6 812.2 511.4 815.0C516.5 818.0 522.6 819.0 529.4 820.0C538.0 821.3 549.2 820.8 559.2 821.0C569.4 821.2 579.7 821.0 590.0 821.0C600.2 821.0 610.5 821.0 620.7 821.0C631.0 821.0 641.2 821.0 651.5 821.0" fill="none" stroke="#a65ee8" stroke-width="1.8" stroke-linejoin="round" stroke-linecap="round"/>
<path d="M651.5 822.5C643.1 822.5 634.7 822.5 626.2 822.5C617.8 822.5 609.4 822.6 601.0 822.6C592.6 822.6 584.2 822.6 575.8 822.6C567.3 822.6 558.9 822.6 550.5 822.6C542.1 822.6 533.7 822.7 525.2 822.7C516.8 822.7 508.9 822.7 500.0 822.7C490.1 822.7 479.1 822.7 468.6 822.7C458.2 822.6 444.1 822.2 437.3 822.6C434.0 822.8 432.5 822.9 430.0 823.5C427.1 824.1 423.2 825.0 421.0 826.5C419.3 827.6 418.4 828.7 417.4 830.7C415.7 834.0 414.9 840.1 413.8 845.2C412.5 850.9 411.4 857.3 410.2 863.3C409.0 869.3 407.8 875.2 406.6 881.4C405.4 887.8 404.1 894.4 402.9 901.2C401.7 908.3 400.5 915.7 399.3 922.9C398.1 930.1 397.0 937.7 395.7 944.6C394.5 950.9 393.4 957.7 392.1 962.7C391.1 966.3 390.1 969.5 389.0 972.0C388.2 973.7 387.6 976.1 386.7 976.3C385.9 976.4 384.8 975.1 384.0 974.0C382.9 972.6 382.1 970.9 381.2 968.1C379.3 962.4 377.5 950.7 375.8 941.0C373.9 929.8 372.6 916.6 370.4 904.9C368.3 893.7 366.4 882.3 363.2 872.3C360.3 863.2 357.0 853.8 352.3 847.0C348.3 841.3 343.7 836.7 337.9 833.4C331.8 829.9 324.4 828.5 316.2 827.1C305.8 825.3 291.1 825.7 280.0 825.3C270.4 825.0 262.2 824.9 253.3 824.7C244.4 824.5 235.6 824.3 226.7 824.1C217.8 823.9 210.2 823.7 200.0 823.5C186.4 823.2 168.1 822.8 152.2 822.5" fill="none" stroke="#a65ee8" stroke-width="1.8" stroke-linejoin="round" stroke-linecap="round"/>
<path d="M869.4 827.0C878.1 827.0 886.8 826.9 895.5 826.9C904.2 826.9 912.9 826.9 921.6 826.8C930.3 826.8 939.1 826.8 947.8 826.8C956.5 826.7 965.2 826.7 973.9 826.7C982.6 826.7 991.4 826.6 1000.0 826.6C1008.4 826.6 1016.7 826.5 1025.0 826.5C1033.3 826.5 1041.7 826.5 1050.0 826.5C1058.3 826.4 1066.7 826.4 1075.0 826.4C1083.3 826.4 1092.5 826.5 1100.0 826.3C1106.2 826.1 1112.5 827.2 1117.1 825.3C1120.9 823.7 1123.7 820.9 1126.2 817.2C1129.5 812.3 1131.2 803.7 1133.4 797.3C1135.4 791.3 1137.0 784.6 1139.0 780.0C1140.4 776.7 1141.8 772.1 1143.3 772.0C1144.5 771.9 1146.0 775.1 1147.0 777.0C1148.2 779.2 1148.9 781.4 1149.7 784.6C1151.1 789.9 1150.9 800.0 1153.3 806.3C1155.4 811.9 1158.4 817.5 1162.3 820.8C1165.8 823.8 1169.9 825.1 1175.0 826.2C1181.8 827.7 1191.3 826.7 1200.0 826.8C1209.6 826.9 1220.1 826.8 1230.1 826.8C1240.1 826.9 1250.2 826.9 1260.2 826.9C1270.2 826.9 1280.3 826.9 1290.3 827.0C1300.3 827.0 1310.4 827.0 1320.4 827.0" fill="none" stroke="#404040" stroke-width="2.0" stroke-linejoin="round" stroke-linecap="round"/>
<path d="M1320.4 828.2C1310.4 828.2 1300.3 828.2 1290.3 828.2C1280.3 828.3 1270.2 828.3 1260.2 828.3C1250.2 828.3 1240.1 828.3 1230.1 828.4C1220.1 828.4 1210.0 828.4 1200.0 828.4C1190.0 828.4 1180.0 828.3 1170.0 828.2C1160.0 828.1 1149.4 827.7 1140.0 828.0C1131.8 828.3 1122.8 827.9 1116.8 829.8C1112.5 831.1 1109.0 832.8 1106.5 835.8C1103.7 839.1 1103.0 844.6 1101.4 849.5C1099.6 854.9 1098.6 862.2 1096.2 866.7C1094.4 870.1 1091.6 875.2 1089.7 874.9C1087.5 874.6 1086.1 866.2 1084.2 861.5C1082.0 856.2 1080.6 849.1 1077.3 844.4C1074.2 840.1 1070.3 836.5 1065.3 834.1C1059.3 831.2 1051.6 830.8 1042.9 829.8C1030.9 828.4 1012.5 828.3 1000.0 828.0C990.2 827.8 982.6 828.0 973.9 828.0C965.2 828.1 956.5 828.1 947.8 828.1C939.1 828.1 930.3 828.1 921.6 828.1C912.9 828.1 904.2 828.1 895.5 828.2C886.8 828.2 878.1 828.2 869.4 828.2" fill="none" stroke="#404040" stroke-width="2.0" stroke-linejoin="round" stroke-linecap="round"/>
<path d="M869.4 827.0C878.1 827.0 886.8 826.9 895.5 826.9C904.2 826.9 912.9 826.9 921.6 826.8C930.3 826.8 939.1 826.8 947.8 826.8C956.5 826.7 965.2 826.7 973.9 826.7C982.6 826.7 991.4 826.6 1000.0 826.6C1008.4 826.6 1016.7 826.5 1025.0 826.5C1033.3 826.5 1041.7 826.5 1050.0 826.5C1058.3 826.4 1066.7 826.4 1075.0 826.4C1083.3 826.4 1092.5 826.7 1100.0 826.3C1106.2 826.0 1112.3 826.9 1117.0 824.5C1121.6 822.1 1125.3 817.3 1128.0 811.8C1131.4 804.8 1131.7 794.3 1133.4 784.6C1135.3 773.4 1137.2 757.6 1138.8 748.5C1139.8 742.9 1140.5 738.7 1141.5 735.0C1142.2 732.3 1142.9 728.3 1143.9 728.2C1144.7 728.1 1145.9 731.0 1146.8 733.0C1148.0 735.7 1148.8 738.7 1149.7 743.1C1151.3 751.1 1151.6 766.9 1153.3 777.4C1154.7 786.5 1155.9 795.6 1158.7 802.7C1161.0 808.4 1163.6 813.5 1167.7 817.2C1171.9 821.1 1177.3 823.6 1184.0 825.3C1193.5 827.7 1209.1 826.4 1220.0 826.6C1229.1 826.8 1236.7 826.7 1245.1 826.7C1253.5 826.7 1261.8 826.8 1270.2 826.8C1278.6 826.8 1286.9 826.9 1295.3 826.9C1303.7 826.9 1312.0 827.0 1320.4 827.0" fill="none" stroke="#f5333f" stroke-width="2.0" stroke-linejoin="round" stroke-linecap="round"/>
<path d="M1320.4 828.3C1310.4 828.3 1300.3 828.3 1290.3 828.3C1280.3 828.4 1270.2 828.4 1260.2 828.4C1250.2 828.4 1240.1 828.4 1230.1 828.5C1220.1 828.5 1210.0 828.5 1200.0 828.5C1190.0 828.5 1180.0 828.5 1170.0 828.5C1160.0 828.6 1148.9 828.3 1140.0 828.6C1132.7 828.8 1125.7 828.5 1120.3 829.8C1116.2 830.7 1112.5 831.5 1110.0 834.1C1107.1 837.1 1106.2 842.6 1104.8 847.8C1103.1 854.3 1102.7 862.9 1101.4 870.1C1100.1 876.9 1098.3 885.3 1097.1 890.0C1096.4 892.6 1096.0 893.7 1095.3 895.9C1094.4 898.8 1093.1 902.9 1092.0 906.0C1091.1 908.6 1090.2 913.1 1089.3 913.1C1088.4 913.1 1087.3 908.0 1086.5 905.0C1085.5 901.3 1085.3 897.4 1084.2 892.5C1082.6 885.4 1080.5 874.8 1077.3 866.7C1074.2 858.8 1070.6 849.9 1065.3 844.4C1060.6 839.5 1055.0 836.5 1048.1 834.1C1039.5 831.1 1026.0 830.6 1017.2 829.8C1010.6 829.2 1006.3 829.1 1000.0 828.9C992.2 828.7 982.6 828.9 973.9 828.9C965.2 828.9 956.5 828.9 947.8 828.9C939.1 828.9 930.3 829.0 921.6 829.0C912.9 829.0 904.2 829.0 895.5 829.0C886.8 829.0 878.1 829.0 869.4 829.0" fill="none" stroke="#f5333f" stroke-width="2.0" stroke-linejoin="round" stroke-linecap="round"/>
<path d="M869.4 827.0C878.1 827.0 886.8 826.9 895.5 826.9C904.2 826.9 912.9 826.9 921.6 826.8C930.3 826.8 939.1 826.8 947.8 826.8C956.5 826.7 965.2 826.7 973.9 826.7C982.6 826.7 991.4 826.6 1000.0 826.6C1008.4 826.6 1016.7 826.5 1025.0 826.5C1033.3 826.5 1041.7 826.5 1050.0 826.5C1058.3 826.4 1066.7 826.4 1075.0 826.4C1083.3 826.4 1092.5 826.8 1100.0 826.3C1106.2 825.9 1112.4 827.5 1117.0 824.3C1123.0 820.1 1126.8 808.8 1129.8 799.1C1133.5 787.2 1133.4 771.4 1135.2 757.5C1137.0 743.6 1138.8 726.9 1140.6 715.9C1141.8 708.7 1142.6 702.2 1144.0 698.0C1144.8 695.5 1145.7 692.4 1146.6 692.4C1147.5 692.4 1148.6 694.9 1149.3 697.0C1150.5 700.5 1150.6 705.9 1151.5 712.3C1152.9 723.1 1154.6 742.1 1156.9 755.7C1158.9 767.9 1160.6 780.1 1164.1 790.1C1167.0 798.4 1170.2 806.0 1175.0 811.8C1179.4 817.2 1184.1 821.7 1191.2 824.4C1200.9 828.1 1217.9 826.2 1230.0 826.6C1240.7 826.9 1250.1 826.7 1260.1 826.7C1270.2 826.8 1280.2 826.8 1290.3 826.9C1300.3 826.9 1310.4 827.0 1320.4 827.0" fill="none" stroke="#1f6fe5" stroke-width="2.0" stroke-linejoin="round" stroke-linecap="round"/>
<path d="M1320.4 828.4C1310.4 828.4 1300.3 828.4 1290.3 828.5C1280.3 828.5 1270.2 828.5 1260.2 828.5C1250.2 828.5 1240.1 828.5 1230.1 828.5C1220.1 828.6 1210.0 828.6 1200.0 828.6C1190.0 828.6 1180.0 828.6 1170.0 828.6C1160.0 828.6 1148.9 828.3 1140.0 828.6C1132.7 828.8 1125.7 828.5 1120.3 829.8C1116.2 830.7 1112.5 831.5 1110.0 834.1C1107.1 837.1 1106.2 842.6 1104.8 847.8C1103.1 854.3 1102.5 861.9 1101.4 870.1C1100.0 880.3 1098.7 894.1 1097.1 904.5C1095.8 913.1 1094.6 922.5 1092.8 928.0C1091.8 931.1 1090.8 933.4 1089.5 935.0C1088.7 936.0 1087.6 937.3 1086.8 937.1C1085.6 936.8 1084.9 932.8 1084.0 930.0C1082.8 926.3 1082.1 922.0 1080.7 916.5C1078.5 907.7 1075.8 892.9 1072.2 882.2C1068.8 872.4 1065.5 862.1 1060.1 854.7C1055.4 848.2 1049.7 842.9 1042.9 839.2C1035.6 835.2 1025.0 833.7 1017.2 832.3C1010.9 831.2 1006.3 830.9 1000.0 830.6C992.5 830.2 983.3 830.4 975.0 830.3C966.7 830.2 958.3 830.1 950.0 830.0C941.7 830.0 933.3 829.9 925.0 829.8C916.7 829.7 908.8 829.6 900.0 829.5C890.3 829.4 879.6 829.4 869.4 829.3" fill="none" stroke="#1f6fe5" stroke-width="2.0" stroke-linejoin="round" stroke-linecap="round"/>
<path d="M869.4 827.0C878.1 827.0 886.8 826.9 895.5 826.9C904.2 826.9 912.9 826.9 921.6 826.8C930.3 826.8 939.1 826.8 947.8 826.8C956.5 826.7 965.2 826.7 973.9 826.7C982.6 826.7 991.4 826.6 1000.0 826.6C1008.4 826.6 1016.7 826.5 1025.0 826.5C1033.3 826.5 1041.7 826.5 1050.0 826.5C1058.3 826.4 1066.7 826.4 1075.0 826.4C1083.3 826.4 1092.5 826.8 1100.0 826.3C1106.2 825.9 1112.3 827.5 1117.0 824.0C1123.5 819.2 1127.9 804.0 1130.7 793.7C1133.4 783.9 1132.8 773.8 1133.8 763.9C1134.9 753.9 1135.8 744.9 1137.0 734.0C1138.5 720.9 1140.8 702.4 1142.4 690.6C1143.5 682.5 1144.0 674.6 1145.5 670.0C1146.3 667.5 1147.4 664.5 1148.4 664.4C1149.4 664.3 1150.6 666.8 1151.5 669.0C1153.3 673.4 1153.9 682.1 1155.1 690.6C1156.8 702.6 1158.4 719.6 1160.5 734.0C1162.6 748.5 1164.2 764.5 1167.7 777.4C1170.6 788.2 1173.5 798.5 1178.6 806.3C1183.0 813.1 1187.3 819.0 1194.9 822.6C1205.6 827.6 1226.9 826.0 1240.0 826.6C1250.1 827.1 1257.9 826.7 1266.8 826.7C1275.7 826.8 1284.7 826.8 1293.6 826.9C1302.5 826.9 1311.5 827.0 1320.4 827.0" fill="none" stroke="#1e9e57" stroke-width="2.0" stroke-linejoin="round" stroke-linecap="round"/>
<path d="M1320.4 828.5C1310.4 828.5 1300.3 828.5 1290.3 828.5C1280.3 828.6 1270.2 828.6 1260.2 828.6C1250.2 828.6 1240.1 828.6 1230.1 828.7C1220.1 828.7 1210.0 828.7 1200.0 828.7C1190.0 828.7 1180.0 828.7 1170.0 828.7C1160.0 828.6 1148.9 828.3 1140.0 828.6C1132.7 828.8 1125.7 828.5 1120.3 829.8C1116.2 830.7 1112.5 831.5 1110.0 834.1C1107.1 837.1 1106.2 842.6 1104.8 847.8C1103.1 854.3 1102.5 861.9 1101.4 870.1C1100.0 880.3 1098.5 893.0 1097.1 904.5C1095.7 915.9 1094.6 929.5 1092.8 938.8C1091.5 945.3 1090.1 950.9 1088.5 955.0C1087.4 957.6 1086.1 961.2 1085.0 961.2C1083.9 961.2 1082.9 957.6 1082.0 955.0C1080.7 951.3 1080.3 946.5 1079.0 940.6C1076.9 931.3 1073.8 916.5 1070.4 904.5C1067.0 892.4 1063.8 878.6 1058.4 868.4C1053.7 859.6 1048.2 851.6 1041.2 846.1C1034.4 840.8 1024.7 837.9 1017.2 835.8C1011.1 834.1 1006.3 833.8 1000.0 833.2C992.5 832.5 983.3 832.8 975.0 832.5C966.7 832.3 958.3 832.1 950.0 831.9C941.7 831.6 933.3 831.4 925.0 831.2C916.7 830.9 908.8 830.7 900.0 830.5C890.3 830.3 879.6 830.2 869.4 830.0" fill="none" stroke="#1e9e57" stroke-width="2.0" stroke-linejoin="round" stroke-linecap="round"/>
<path d="M869.4 827.0C878.1 827.0 886.8 826.9 895.5 826.9C904.2 826.9 912.9 826.9 921.6 826.8C930.3 826.8 939.1 826.8 947.8 826.8C956.5 826.7 965.2 826.7 973.9 826.7C982.6 826.7 991.4 826.6 1000.0 826.6C1008.4 826.6 1016.7 826.5 1025.0 826.5C1033.3 826.5 1041.7 826.5 1050.0 826.5C1058.3 826.4 1066.7 826.4 1075.0 826.4C1083.3 826.4 1092.5 826.9 1100.0 826.3C1106.2 825.8 1112.4 826.4 1117.0 823.5C1121.8 820.5 1125.3 814.9 1128.0 808.1C1132.0 798.0 1132.0 779.0 1133.4 766.6C1134.5 756.6 1135.2 748.5 1136.1 739.5C1137.0 730.4 1137.7 722.6 1138.8 712.3C1140.3 698.8 1142.4 677.3 1144.2 665.3C1145.3 657.8 1146.1 651.6 1147.5 647.0C1148.4 644.0 1149.5 640.0 1150.6 640.0C1151.6 640.0 1152.9 643.3 1153.8 646.0C1155.3 650.5 1155.8 657.4 1156.9 665.3C1158.6 677.5 1160.2 696.8 1162.3 712.3C1164.4 727.5 1166.4 743.4 1169.6 757.5C1172.5 770.3 1176.2 783.6 1180.4 793.7C1183.6 801.5 1186.4 808.4 1191.2 813.6C1195.6 818.4 1200.4 822.0 1207.5 824.4C1218.0 827.9 1236.5 826.3 1250.0 826.7C1262.3 827.1 1273.5 826.8 1285.2 826.9C1296.9 826.9 1308.7 827.0 1320.4 827.0" fill="none" stroke="#a65ee8" stroke-width="2.0" stroke-linejoin="round" stroke-linecap="round"/>
<path d="M1320.4 828.6C1310.4 828.6 1300.3 828.6 1290.3 828.6C1280.3 828.7 1270.2 828.7 1260.2 828.7C1250.2 828.7 1240.1 828.7 1230.1 828.8C1220.1 828.8 1210.0 828.8 1200.0 828.8C1190.0 828.8 1180.0 828.7 1170.0 828.7C1160.0 828.7 1148.9 828.3 1140.0 828.6C1132.7 828.8 1125.7 828.5 1120.3 829.8C1116.2 830.7 1112.5 831.5 1110.0 834.1C1107.1 837.1 1106.2 842.6 1104.8 847.8C1103.1 854.3 1102.5 861.9 1101.4 870.1C1100.0 880.3 1098.5 893.0 1097.1 904.5C1095.7 915.9 1094.5 927.8 1092.8 938.8C1091.3 948.9 1089.1 961.3 1087.6 968.0C1086.8 971.5 1086.3 973.7 1085.5 976.0C1084.8 977.9 1084.0 980.9 1083.3 980.9C1082.4 980.9 1081.4 976.0 1080.5 973.0C1079.4 969.1 1078.6 965.3 1077.3 959.5C1075.1 949.2 1072.2 930.6 1068.7 916.5C1065.3 902.5 1062.2 887.1 1056.7 875.3C1052.0 865.3 1046.6 855.8 1039.5 849.5C1033.1 843.9 1024.3 840.7 1017.2 838.3C1011.2 836.3 1006.3 835.7 1000.0 834.9C992.5 834.0 983.3 834.1 975.0 833.7C966.7 833.3 958.3 832.8 950.0 832.5C941.7 832.2 933.3 832.1 925.0 831.9C916.7 831.6 908.8 831.4 900.0 831.2C890.3 831.0 879.6 830.9 869.4 830.8" fill="none" stroke="#a65ee8" stroke-width="2.0" stroke-linejoin="round" stroke-linecap="round"/>
<path d="M1549.4 823.9C1557.8 823.9 1566.2 823.8 1574.6 823.8C1582.9 823.7 1591.3 823.7 1599.7 823.6C1608.1 823.6 1616.5 823.6 1624.8 823.5C1633.2 823.5 1641.6 823.5 1650.0 823.4C1658.3 823.3 1666.7 823.2 1675.0 823.2C1683.3 823.1 1691.7 823.0 1700.0 823.0C1708.3 822.9 1716.7 822.8 1725.0 822.7C1733.3 822.6 1740.9 822.8 1750.0 822.5C1760.9 822.1 1776.2 821.7 1786.0 820.5C1792.9 819.6 1798.7 820.1 1803.4 817.1C1808.2 814.0 1811.1 808.1 1814.3 801.9C1818.6 793.7 1821.7 781.0 1825.1 771.5C1828.1 763.0 1830.6 754.5 1833.8 747.6C1836.5 741.8 1839.3 736.0 1842.5 732.4C1844.9 729.8 1847.6 727.0 1850.1 727.0C1852.6 727.0 1855.5 729.4 1857.7 732.4C1861.5 737.6 1863.5 751.4 1866.4 758.5C1868.5 763.7 1870.6 766.9 1872.9 771.5C1875.6 776.9 1878.7 783.0 1881.6 788.8C1884.5 794.6 1887.2 800.8 1890.2 806.2C1893.0 811.2 1895.0 817.8 1898.9 820.3C1902.4 822.5 1906.7 821.6 1911.9 821.8C1919.7 822.2 1931.3 821.4 1941.1 821.2C1950.8 821.0 1960.5 820.8 1970.2 820.6C1980.0 820.4 1989.7 820.2 1999.4 820.0" fill="none" stroke="#404040" stroke-width="1.9" stroke-linejoin="round" stroke-linecap="round"/>
<path d="M1999.4 820.5C1988.4 820.6 1977.3 820.7 1966.3 820.8C1955.2 820.9 1944.2 821.1 1933.1 821.2C1922.1 821.3 1910.3 821.3 1900.0 821.5C1891.1 821.7 1883.3 821.9 1875.0 822.1C1866.7 822.3 1858.3 822.5 1850.0 822.7C1841.7 822.9 1833.3 823.1 1825.0 823.3C1816.7 823.5 1807.0 823.3 1800.0 823.9C1794.9 824.3 1790.3 824.1 1786.7 825.9C1783.4 827.6 1781.2 830.2 1778.7 833.8C1775.0 839.1 1772.1 848.2 1768.8 855.7C1765.4 863.5 1762.1 872.5 1758.8 879.6C1756.1 885.5 1754.3 891.5 1750.9 895.5C1748.1 898.9 1744.1 903.2 1740.9 903.0C1737.5 902.8 1734.2 897.5 1731.0 893.5C1726.8 888.3 1722.8 880.1 1719.0 873.6C1715.5 867.5 1713.0 861.8 1709.1 855.7C1704.6 848.6 1699.0 838.5 1693.2 833.8C1688.8 830.3 1685.2 829.3 1679.2 827.8C1669.5 825.4 1651.8 825.4 1639.5 824.9C1628.8 824.5 1619.5 824.7 1609.5 824.6C1599.5 824.5 1589.4 824.3 1579.4 824.2C1569.4 824.1 1559.4 824.0 1549.4 823.9" fill="none" stroke="#404040" stroke-width="1.9" stroke-linejoin="round" stroke-linecap="round"/>
<path d="M1549.4 825.9C1557.8 825.7 1566.3 825.4 1574.7 825.2C1583.1 825.0 1591.6 824.7 1600.0 824.5C1608.4 824.3 1616.7 824.3 1625.0 824.2C1633.3 824.2 1641.7 824.1 1650.0 824.0C1658.3 823.9 1666.7 823.8 1675.0 823.8C1683.3 823.7 1691.3 823.6 1700.0 823.5C1709.5 823.4 1720.0 823.2 1730.0 823.0C1740.0 822.8 1750.4 823.2 1760.0 822.5C1769.0 821.9 1778.2 820.6 1786.0 819.2C1792.4 818.0 1798.9 817.5 1803.4 814.9C1807.2 812.8 1809.4 809.7 1812.1 806.2C1815.3 802.0 1818.0 796.3 1820.8 791.0C1823.8 785.4 1826.6 779.4 1829.5 773.6C1832.4 767.8 1835.3 762.3 1838.1 756.3C1841.1 750.0 1844.0 743.4 1846.8 736.7C1849.8 729.7 1852.5 721.8 1855.5 715.0C1858.3 708.7 1861.5 701.3 1864.2 697.0C1865.9 694.3 1867.2 692.3 1869.0 691.0C1870.5 690.0 1872.4 689.3 1874.0 689.4C1875.7 689.5 1877.5 690.6 1879.0 692.0C1880.9 693.8 1882.2 696.5 1883.7 699.8C1886.0 704.8 1887.8 712.6 1890.2 719.4C1892.8 727.0 1895.4 735.5 1898.9 743.3C1902.6 751.4 1907.5 759.4 1911.9 767.1C1916.2 774.5 1921.1 782.2 1925.0 788.8C1928.2 794.3 1930.9 799.2 1933.6 804.0C1936.0 808.2 1936.8 813.5 1940.2 816.0C1943.9 818.6 1949.9 818.2 1955.4 818.8C1962.0 819.5 1969.8 819.2 1977.1 819.2C1984.5 819.2 1992.0 818.7 1999.4 818.5" fill="none" stroke="#f5333f" stroke-width="1.9" stroke-linejoin="round" stroke-linecap="round"/>
<path d="M1999.4 819.5C1988.4 819.7 1977.3 819.9 1966.3 820.2C1955.2 820.4 1944.2 820.6 1933.1 820.8C1922.1 821.1 1910.3 821.2 1900.0 821.5C1891.1 821.8 1883.3 822.1 1875.0 822.5C1866.7 822.8 1858.3 823.1 1850.0 823.4C1841.7 823.7 1833.3 824.0 1825.0 824.3C1816.7 824.7 1807.0 824.6 1800.0 825.3C1794.9 825.8 1789.1 826.2 1786.7 827.5C1785.6 828.1 1785.5 828.7 1784.7 829.8C1783.2 831.9 1780.9 835.8 1778.7 839.8C1775.7 845.3 1772.1 853.1 1768.8 859.7C1765.5 866.3 1762.1 873.0 1758.8 879.6C1755.5 886.2 1752.2 892.9 1748.9 899.5C1745.6 906.1 1742.6 913.9 1738.9 919.4C1735.9 923.9 1732.6 927.7 1729.0 930.5C1725.9 933.0 1722.0 936.2 1719.0 935.9C1716.1 935.6 1713.5 932.2 1711.1 929.3C1708.1 925.7 1706.0 920.6 1703.1 915.4C1699.5 908.9 1695.3 900.6 1691.2 893.5C1687.3 886.7 1683.4 879.8 1679.2 873.6C1675.4 867.9 1671.3 863.0 1667.3 857.7C1663.3 852.4 1660.3 845.5 1655.4 841.8C1650.9 838.4 1645.7 837.6 1639.5 835.8C1631.2 833.4 1620.3 831.3 1609.6 829.8C1597.3 828.1 1580.9 827.6 1569.8 826.9C1561.9 826.4 1556.2 826.2 1549.4 825.9" fill="none" stroke="#f5333f" stroke-width="1.9" stroke-linejoin="round" stroke-linecap="round"/>
<path d="M1549.4 829.4C1556.3 828.4 1562.5 827.2 1570.0 826.5C1579.0 825.6 1590.5 825.3 1600.0 825.0C1608.7 824.7 1616.7 824.8 1625.0 824.6C1633.3 824.5 1641.7 824.4 1650.0 824.2C1658.3 824.1 1666.7 824.0 1675.0 823.9C1683.3 823.8 1691.3 823.6 1700.0 823.5C1709.5 823.3 1720.0 823.2 1730.0 823.0C1740.0 822.8 1750.4 823.2 1760.0 822.5C1769.0 821.9 1778.2 820.6 1786.0 819.2C1792.4 818.0 1798.9 817.5 1803.4 814.9C1807.2 812.8 1809.4 809.7 1812.1 806.2C1815.3 802.0 1818.0 796.3 1820.8 791.0C1823.8 785.4 1826.6 779.4 1829.5 773.6C1832.4 767.8 1835.3 762.3 1838.1 756.3C1841.1 750.0 1844.0 743.4 1846.8 736.7C1849.8 729.7 1852.6 722.2 1855.5 715.0C1858.4 707.8 1861.2 700.3 1864.2 693.3C1867.0 686.6 1869.7 678.7 1872.9 673.8C1875.1 670.4 1877.6 668.1 1880.0 666.0C1882.0 664.3 1884.0 662.7 1886.0 662.0C1887.7 661.4 1889.8 661.0 1891.3 661.4C1892.7 661.8 1893.7 662.8 1895.0 664.0C1896.9 665.8 1899.0 668.1 1901.1 671.6C1904.6 677.5 1908.3 688.8 1911.9 697.7C1915.6 706.9 1919.0 717.2 1922.8 725.9C1926.2 733.7 1929.7 740.2 1933.6 747.6C1937.7 755.4 1942.3 763.5 1946.7 771.5C1951.0 779.5 1955.8 788.2 1959.7 795.4C1962.9 801.3 1964.7 807.9 1968.4 811.6C1971.4 814.6 1974.9 815.8 1979.2 817.1C1984.6 818.7 1992.3 818.5 1998.8 819.2" fill="none" stroke="#1f6fe5" stroke-width="1.9" stroke-linejoin="round" stroke-linecap="round"/>
<path d="M1999.4 819.8C1988.4 820.0 1977.3 820.2 1966.3 820.4C1955.2 820.6 1944.2 820.8 1933.1 821.0C1922.1 821.2 1910.3 821.3 1900.0 821.6C1891.1 821.8 1883.3 822.2 1875.0 822.5C1866.7 822.8 1858.3 823.1 1850.0 823.5C1841.7 823.8 1833.3 824.1 1825.0 824.4C1816.7 824.7 1807.0 824.6 1800.0 825.3C1794.9 825.8 1789.1 826.2 1786.7 827.5C1785.6 828.1 1785.5 828.7 1784.7 829.8C1783.2 831.9 1780.9 835.8 1778.7 839.8C1775.7 845.3 1772.1 853.1 1768.8 859.7C1765.5 866.3 1762.1 873.0 1758.8 879.6C1755.5 886.2 1752.2 892.9 1748.9 899.5C1745.6 906.1 1742.2 912.8 1738.9 919.4C1735.6 926.0 1732.7 933.8 1729.0 939.2C1726.0 943.6 1722.1 947.1 1719.0 950.0C1716.6 952.3 1714.5 954.3 1712.0 955.5C1709.8 956.6 1707.4 957.5 1705.1 957.2C1702.7 956.8 1700.3 954.6 1698.0 953.0C1695.6 951.3 1693.5 950.0 1691.2 947.2C1687.4 942.7 1683.3 933.7 1679.2 927.3C1675.3 921.1 1671.3 915.4 1667.3 909.4C1663.3 903.4 1659.5 897.2 1655.4 891.5C1651.5 886.0 1647.8 881.4 1643.4 875.6C1638.0 868.4 1631.9 857.5 1625.5 851.7C1620.5 847.1 1616.0 844.6 1609.6 841.8C1601.4 838.3 1589.8 835.9 1579.8 833.8C1569.8 831.7 1559.5 830.9 1549.4 829.4" fill="none" stroke="#1f6fe5" stroke-width="1.9" stroke-linejoin="round" stroke-linecap="round"/>
<path d="M1549.4 833.8C1554.6 832.2 1558.7 830.2 1565.0 829.0C1574.3 827.2 1589.3 826.6 1600.0 826.0C1609.0 825.5 1616.7 825.6 1625.0 825.4C1633.3 825.2 1641.7 825.0 1650.0 824.8C1658.3 824.5 1666.7 824.3 1675.0 824.1C1683.3 823.9 1691.3 823.7 1700.0 823.5C1709.5 823.3 1720.0 823.2 1730.0 823.0C1740.0 822.8 1750.4 823.2 1760.0 822.5C1769.0 821.9 1778.2 820.6 1786.0 819.2C1792.4 818.0 1798.9 817.5 1803.4 814.9C1807.2 812.8 1809.4 809.7 1812.1 806.2C1815.3 802.0 1818.0 796.3 1820.8 791.0C1823.8 785.4 1826.6 779.4 1829.5 773.6C1832.4 767.8 1835.3 762.3 1838.1 756.3C1841.1 750.0 1844.0 743.4 1846.8 736.7C1849.8 729.7 1852.6 722.2 1855.5 715.0C1858.4 707.8 1861.2 700.3 1864.2 693.3C1867.0 686.6 1869.8 679.8 1872.9 673.8C1875.7 668.3 1878.6 663.4 1881.6 658.6C1884.4 654.1 1887.3 648.9 1890.2 646.0C1892.1 644.1 1893.9 642.8 1896.0 642.0C1897.9 641.3 1900.2 640.9 1902.2 641.2C1904.2 641.5 1906.1 642.7 1908.0 644.0C1910.1 645.5 1912.0 647.1 1914.1 649.9C1917.6 654.7 1921.8 664.1 1925.0 671.6C1928.3 679.3 1930.5 687.4 1933.6 695.5C1936.9 704.0 1940.2 713.0 1944.5 721.6C1948.9 730.4 1954.6 739.2 1959.7 747.6C1964.7 755.8 1970.2 763.5 1974.9 771.5C1979.5 779.4 1984.4 788.6 1987.9 795.4C1990.5 800.4 1992.2 804.9 1994.4 808.4C1996.1 811.1 1997.7 812.8 1999.4 815.0" fill="none" stroke="#1e9e57" stroke-width="1.9" stroke-linejoin="round" stroke-linecap="round"/>
<path d="M1999.4 815.0C1997.9 816.0 1996.9 817.3 1995.0 818.0C1992.4 819.0 1989.2 819.1 1985.0 819.5C1978.0 820.1 1966.1 820.0 1956.7 820.3C1947.2 820.5 1937.8 820.8 1928.3 821.0C1918.9 821.3 1909.1 821.5 1900.0 821.8C1891.4 822.1 1883.3 822.4 1875.0 822.7C1866.7 823.0 1858.3 823.3 1850.0 823.5C1841.7 823.8 1833.3 824.1 1825.0 824.4C1816.7 824.7 1807.0 824.6 1800.0 825.3C1794.9 825.8 1789.1 826.2 1786.7 827.5C1785.6 828.1 1785.5 828.7 1784.7 829.8C1783.2 831.9 1780.9 835.8 1778.7 839.8C1775.7 845.3 1772.1 853.1 1768.8 859.7C1765.5 866.3 1762.1 873.0 1758.8 879.6C1755.5 886.2 1752.2 892.9 1748.9 899.5C1745.6 906.1 1742.2 912.8 1738.9 919.4C1735.6 926.0 1732.4 932.8 1729.0 939.2C1725.7 945.4 1723.0 952.4 1719.0 957.2C1715.5 961.4 1710.6 964.2 1707.1 967.1C1704.4 969.3 1702.4 971.5 1700.0 973.0C1697.8 974.4 1695.5 975.9 1693.2 976.1C1690.9 976.3 1688.3 975.1 1686.0 974.0C1683.6 972.8 1681.6 971.6 1679.2 969.1C1675.0 964.6 1669.9 954.7 1665.3 947.2C1660.6 939.5 1656.2 931.4 1651.4 923.3C1646.3 914.8 1641.0 905.7 1635.5 897.5C1630.3 889.8 1625.0 882.7 1619.6 875.6C1614.4 868.7 1609.6 861.1 1603.7 855.7C1598.3 850.7 1592.3 846.9 1585.8 843.8C1579.1 840.6 1570.5 838.5 1563.9 836.8C1558.6 835.4 1554.2 834.8 1549.4 833.8" fill="none" stroke="#1e9e57" stroke-width="1.9" stroke-linejoin="round" stroke-linecap="round"/>
<path d="M1549.4 840.8C1552.9 838.2 1555.6 834.8 1560.0 833.0C1565.4 830.7 1572.2 830.7 1580.0 829.8C1591.0 828.5 1608.0 827.7 1620.0 827.0C1629.8 826.4 1637.8 826.2 1646.7 825.8C1655.6 825.4 1664.4 825.1 1673.3 824.7C1682.2 824.3 1690.8 823.8 1700.0 823.5C1709.7 823.2 1720.0 823.2 1730.0 823.0C1740.0 822.8 1750.4 823.2 1760.0 822.5C1769.0 821.9 1778.2 820.6 1786.0 819.2C1792.4 818.0 1798.9 817.5 1803.4 814.9C1807.2 812.8 1809.4 809.7 1812.1 806.2C1815.3 802.0 1818.0 796.3 1820.8 791.0C1823.8 785.4 1826.6 779.4 1829.5 773.6C1832.4 767.8 1835.3 762.3 1838.1 756.3C1841.1 750.0 1844.0 743.4 1846.8 736.7C1849.8 729.7 1852.6 722.2 1855.5 715.0C1858.4 707.8 1861.2 700.3 1864.2 693.3C1867.0 686.6 1869.8 679.8 1872.9 673.8C1875.7 668.3 1878.7 663.7 1881.6 658.6C1884.5 653.5 1887.3 648.5 1890.2 643.4C1893.1 638.3 1896.1 632.2 1898.9 628.2C1901.0 625.2 1902.7 622.6 1905.0 621.0C1907.1 619.6 1909.4 618.8 1911.9 618.5C1914.6 618.2 1917.9 617.9 1920.6 619.5C1924.6 621.8 1928.2 628.7 1931.5 634.7C1935.6 642.0 1938.7 651.0 1942.3 660.8C1946.7 672.9 1950.8 689.1 1955.4 702.0C1959.5 713.6 1963.8 724.7 1968.4 734.6C1972.5 743.3 1977.2 750.9 1981.4 758.5C1985.2 765.3 1989.2 772.1 1992.3 778.0C1994.8 782.7 1996.6 786.7 1998.8 791.0" fill="none" stroke="#a65ee8" stroke-width="1.9" stroke-linejoin="round" stroke-linecap="round"/>
<path d="M1998.8 791.0C1997.5 795.0 1996.8 799.9 1995.0 803.0C1993.7 805.3 1992.3 806.5 1990.1 808.4C1986.9 811.1 1982.0 815.2 1977.1 817.1C1972.0 819.1 1966.5 818.9 1960.0 819.5C1951.4 820.3 1940.0 820.3 1930.0 820.6C1920.0 821.0 1909.5 821.5 1900.0 821.8C1891.3 822.1 1883.3 822.4 1875.0 822.7C1866.7 823.0 1858.3 823.3 1850.0 823.5C1841.7 823.8 1833.3 824.1 1825.0 824.4C1816.7 824.7 1807.0 824.6 1800.0 825.3C1794.9 825.8 1789.1 826.2 1786.7 827.5C1785.6 828.1 1785.5 828.7 1784.7 829.8C1783.2 831.9 1780.9 835.8 1778.7 839.8C1775.7 845.3 1772.1 853.1 1768.8 859.7C1765.5 866.3 1762.1 873.0 1758.8 879.6C1755.5 886.2 1752.2 892.9 1748.9 899.5C1745.6 906.1 1742.2 912.8 1738.9 919.4C1735.6 926.0 1732.4 932.8 1729.0 939.2C1725.7 945.4 1722.4 951.4 1719.0 957.2C1715.8 962.7 1712.6 968.3 1709.1 973.1C1705.9 977.5 1702.5 981.7 1699.1 985.0C1696.1 987.8 1693.0 990.1 1690.0 992.0C1687.4 993.6 1684.8 995.6 1682.2 995.9C1679.8 996.1 1677.2 994.9 1675.0 994.0C1672.9 993.2 1671.3 992.6 1669.3 991.0C1666.2 988.5 1662.6 983.9 1659.4 979.0C1655.2 972.6 1651.4 963.1 1647.4 955.2C1643.4 947.2 1639.6 938.8 1635.5 931.3C1631.6 924.3 1627.6 918.5 1623.5 911.4C1618.9 903.4 1614.6 893.2 1609.6 885.5C1605.2 878.8 1600.7 873.2 1595.7 867.6C1590.7 862.0 1585.5 855.8 1579.8 851.7C1574.8 848.1 1569.2 845.6 1563.9 843.8C1559.1 842.1 1554.2 841.8 1549.4 840.8" fill="none" stroke="#a65ee8" stroke-width="1.9" stroke-linejoin="round" stroke-linecap="round"/>
<path d="M195.5 360.1H468.3" stroke="#ff0000" stroke-width="3.6" fill="none"/>
<path d="M490.3 360.1L466.3 354.2L466.3 366.0Z" fill="#ff0000"/>
<path d="M835.6 381.2H1163.4" stroke="#ff0000" stroke-width="3.6" fill="none"/>
<path d="M1184.4 381.2L1161.4 375.3L1161.4 387.1Z" fill="#ff0000"/>
<path d="M1518.6 376.0H1753.0" stroke="#ff0000" stroke-width="3.6" fill="none"/>
<path d="M1773.5 376.0L1751.0 370.1L1751.0 381.9Z" fill="#ff0000"/>
<path d="M420.9 784.2L449.7 638.0" stroke="#ff0000" stroke-width="2.4" fill="none"/>
<path d="M452.1 625.6L453.2 640.7L445.4 639.2Z" fill="#ff0000"/>
<path d="M1105.4 792.8L1123.6 659.4" stroke="#ff0000" stroke-width="2.4" fill="none"/>
<path d="M1125.3 646.9L1127.3 661.9L1119.4 660.8Z" fill="#ff0000"/>
<path d="M1783.9 778.0L1845.0 638.6" stroke="#ff0000" stroke-width="2.4" fill="none"/>
<path d="M1850.1 627.1L1847.9 642.1L1840.6 638.9Z" fill="#ff0000"/>
<text x="100" y="150" font-family="'Liberation Serif', 'Times New Roman', serif" font-size="73" font-weight="bold" transform="matrix(0.9545 0 0 1.0371 -96.16 -105.37)">a</text>
<text x="250" y="150" font-family="'Liberation Serif', 'Times New Roman', serif" font-size="73" font-weight="bold" transform="matrix(0.8892 0 0 0.9481 491.51 -91.71)">b</text>
<text x="400" y="150" font-family="'Liberation Serif', 'Times New Roman', serif" font-size="73" font-weight="bold" transform="matrix(1.0 0 0 1.0229 996.4 -102.93)">c</text>
<text x="550" y="150" font-family="'Liberation Serif', 'Times New Roman', serif" font-size="73" font-weight="bold" transform="matrix(0.9973 0 0 0.9596 -547.91 483.36)">d</text>
<text x="700" y="150" font-family="'Liberation Serif', 'Times New Roman', serif" font-size="73" font-weight="bold" transform="matrix(1.0071 0 0 1.0229 7.58 473.37)">e</text>
<text x="850" y="150" font-family="'Liberation Serif', 'Times New Roman', serif" font-size="73" font-weight="bold" transform="matrix(1.1417 0 0 0.9654 430.24 481.09)">f</text>
<text x="605.5" y="53.5" font-family="'Liberation Serif', 'Times New Roman', serif" font-size="23.3" text-anchor="start" font-weight="normal" fill="#000" stroke="#000" stroke-width="0.3" >0-LFP</text>
<text x="1282.8" y="52.9" font-family="'Liberation Serif', 'Times New Roman', serif" font-size="23.3" text-anchor="start" font-weight="normal" fill="#000" stroke="#000" stroke-width="0.3" >Mn-LFP</text>
<text x="1948.2" y="54.7" font-family="'Liberation Serif', 'Times New Roman', serif" font-size="23.3" text-anchor="start" font-weight="normal" fill="#000" stroke="#000" stroke-width="0.3" >Com-LFP</text>
<text x="149.7" y="619.3" font-family="'Liberation Serif', 'Times New Roman', serif" font-size="23.3" text-anchor="start" font-weight="normal" fill="#000" stroke="#000" stroke-width="0.3" >0-LFP</text>
<text x="844.0" y="620.7" font-family="'Liberation Serif', 'Times New Roman', serif" font-size="23.3" text-anchor="start" font-weight="normal" fill="#000" stroke="#000" stroke-width="0.3" >Mn-LFP</text>
<text x="1935.7" y="1008.0" font-family="'Liberation Serif', 'Times New Roman', serif" font-size="20.5" text-anchor="start" font-weight="normal" fill="#000" stroke="#000" stroke-width="0.3" >Com-LFP</text>
<text x="236.7" y="533.8" font-family="'Liberation Serif', 'Times New Roman', serif" font-size="23.4" text-anchor="start" font-weight="normal" fill="#000" stroke="#000" stroke-width="0.3" >Specific Capacity / mA h g<tspan dy="-10" font-size="14">-1</tspan></text>
<text x="930.6" y="534.4" font-family="'Liberation Serif', 'Times New Roman', serif" font-size="23.4" text-anchor="start" font-weight="normal" fill="#000" stroke="#000" stroke-width="0.3" >Specific Capacity / mA h g<tspan dy="-10" font-size="14">-1</tspan></text>
<text x="1611.8" y="526.4" font-family="'Liberation Serif', 'Times New Roman', serif" font-size="23.2" text-anchor="start" font-weight="normal" fill="#000" stroke="#000" stroke-width="0.3" >Specific Capacity / mA h g<tspan dy="-10" font-size="14">-1</tspan></text>
<text x="290.3" y="1103.4" font-family="'Liberation Serif', 'Times New Roman', serif" font-size="23.3" text-anchor="start" font-weight="normal" fill="#000" stroke="#000" stroke-width="0.3" >Potential / V vs. Li</text>
<text x="984.9" y="1103.1" font-family="'Liberation Serif', 'Times New Roman', serif" font-size="23.3" text-anchor="start" font-weight="normal" fill="#000" stroke="#000" stroke-width="0.3" >Potential / V vs. Li</text>
<text x="1664.0" y="1103.0" font-family="'Liberation Serif', 'Times New Roman', serif" font-size="23.3" text-anchor="start" font-weight="normal" fill="#000" stroke="#000" stroke-width="0.3" >Potential / V vs. Li</text>
<text x="68.9" y="344.5" font-family="'Liberation Serif', 'Times New Roman', serif" font-size="23.2" text-anchor="start" font-weight="normal" fill="#000" stroke="#000" stroke-width="0.3" transform="rotate(-90 68.9 344.5)" >Potential vs.(Li/Li<tspan dy="-8" font-size="14">+</tspan><tspan dy="8">)/V</tspan></text>
<text x="764.7" y="344.5" font-family="'Liberation Serif', 'Times New Roman', serif" font-size="23.2" text-anchor="start" font-weight="normal" fill="#000" stroke="#000" stroke-width="0.3" transform="rotate(-90 764.7 344.5)" >Potential vs.(Li/Li<tspan dy="-8" font-size="14">+</tspan><tspan dy="8">)/V</tspan></text>
<text x="1448.6" y="338.9" font-family="'Liberation Serif', 'Times New Roman', serif" font-size="22.5" text-anchor="start" font-weight="normal" fill="#000" stroke="#000" stroke-width="0.3" transform="rotate(-90 1448.6 338.9)" >Potential vs.(Li/Li<tspan dy="-8" font-size="14">+</tspan><tspan dy="8">)/V</tspan></text>
<text x="80.4" y="910.4" font-family="'Liberation Serif', 'Times New Roman', serif" font-size="23.2" text-anchor="start" font-weight="normal" fill="#000" stroke="#000" stroke-width="0.3" transform="rotate(-90 80.4 910.4)" >Current density / mA</text>
<text x="757.1" y="925.6" font-family="'Liberation Serif', 'Times New Roman', serif" font-size="23.2" text-anchor="start" font-weight="normal" fill="#000" stroke="#000" stroke-width="0.3" transform="rotate(-90 757.1 925.6)" >Current density / mA</text>
<text x="1426.0" y="919.1" font-family="'Liberation Serif', 'Times New Roman', serif" font-size="23.2" text-anchor="start" font-weight="normal" fill="#000" stroke="#000" stroke-width="0.3" transform="rotate(-90 1426.0 919.1)" >Current density / mA</text>
<text x="232.9" y="386.4" font-family="'Liberation Serif', 'Times New Roman', serif" font-size="19" fill="#111" stroke="#111" stroke-width="0.3" transform="rotate(90 232.9 386.4)">10C</text>
<text x="273.7" y="386.4" font-family="'Liberation Serif', 'Times New Roman', serif" font-size="19" fill="#111" stroke="#111" stroke-width="0.3" transform="rotate(90 273.7 386.4)">5C</text>
<text x="312.4" y="387.7" font-family="'Liberation Serif', 'Times New Roman', serif" font-size="19" fill="#111" stroke="#111" stroke-width="0.3" transform="rotate(90 312.4 387.7)">2C</text>
<text x="351.9" y="387.7" font-family="'Liberation Serif', 'Times New Roman', serif" font-size="19" fill="#111" stroke="#111" stroke-width="0.3" transform="rotate(90 351.9 387.7)">1C</text>
<text x="393.0" y="379.4" font-family="'Liberation Serif', 'Times New Roman', serif" font-size="19" fill="#111" stroke="#111" stroke-width="0.3" transform="rotate(90 393.0 379.4)">0.5C</text>
<text x="434.8" y="380.2" font-family="'Liberation Serif', 'Times New Roman', serif" font-size="19" fill="#111" stroke="#111" stroke-width="0.3" transform="rotate(90 434.8 380.2)">0.2C</text>
<text x="927.3" y="408.1" font-family="'Liberation Serif', 'Times New Roman', serif" font-size="19" fill="#111" stroke="#111" stroke-width="0.3" transform="rotate(90 927.3 408.1)">10C</text>
<text x="967.4" y="408.1" font-family="'Liberation Serif', 'Times New Roman', serif" font-size="19" fill="#111" stroke="#111" stroke-width="0.3" transform="rotate(90 967.4 408.1)">5C</text>
<text x="1006.9" y="408.4" font-family="'Liberation Serif', 'Times New Roman', serif" font-size="19" fill="#111" stroke="#111" stroke-width="0.3" transform="rotate(90 1006.9 408.4)">2C</text>
<text x="1046.5" y="409.0" font-family="'Liberation Serif', 'Times New Roman', serif" font-size="19" fill="#111" stroke="#111" stroke-width="0.3" transform="rotate(90 1046.5 409.0)">1C</text>
<text x="1087.9" y="401.1" font-family="'Liberation Serif', 'Times New Roman', serif" font-size="19" fill="#111" stroke="#111" stroke-width="0.3" transform="rotate(90 1087.9 401.1)">0.5C</text>
<text x="1129.3" y="401.6" font-family="'Liberation Serif', 'Times New Roman', serif" font-size="19" fill="#111" stroke="#111" stroke-width="0.3" transform="rotate(90 1129.3 401.6)">0.2C</text>
<text x="1541.5" y="401.2" font-family="'Liberation Serif', 'Times New Roman', serif" font-size="19" fill="#111" stroke="#111" stroke-width="0.3" transform="rotate(90 1541.5 401.2)">10C</text>
<text x="1581.1" y="401.4" font-family="'Liberation Serif', 'Times New Roman', serif" font-size="19" fill="#111" stroke="#111" stroke-width="0.3" transform="rotate(90 1581.1 401.4)">5C</text>
<text x="1619.5" y="402.3" font-family="'Liberation Serif', 'Times New Roman', serif" font-size="19" fill="#111" stroke="#111" stroke-width="0.3" transform="rotate(90 1619.5 402.3)">2C</text>
<text x="1658.5" y="402.4" font-family="'Liberation Serif', 'Times New Roman', serif" font-size="19" fill="#111" stroke="#111" stroke-width="0.3" transform="rotate(90 1658.5 402.4)">1C</text>
<text x="1699.1" y="395.1" font-family="'Liberation Serif', 'Times New Roman', serif" font-size="19" fill="#111" stroke="#111" stroke-width="0.3" transform="rotate(90 1699.1 395.1)">0.5C</text>
<text x="1739.2" y="395.1" font-family="'Liberation Serif', 'Times New Roman', serif" font-size="19" fill="#111" stroke="#111" stroke-width="0.3" transform="rotate(90 1739.2 395.1)">0.2C</text>
<path d="M519.5 607.1H571.9" stroke="#404040" stroke-width="2.0"/>
<text x="578.0" y="615.6" font-family="'Liberation Serif', 'Times New Roman', serif" font-size="23.3" fill="#000" stroke="#000" stroke-width="0.3">0.1 mV/s</text>
<path d="M519.5 636.4H571.9" stroke="#f5333f" stroke-width="2.0"/>
<text x="578.0" y="644.9" font-family="'Liberation Serif', 'Times New Roman', serif" font-size="23.3" fill="#000" stroke="#000" stroke-width="0.3">0.2 mV/s</text>
<path d="M519.5 665.3H571.9" stroke="#1f6fe5" stroke-width="2.0"/>
<text x="578.0" y="673.8" font-family="'Liberation Serif', 'Times New Roman', serif" font-size="23.3" fill="#000" stroke="#000" stroke-width="0.3">0.3 mV/s</text>
<path d="M519.5 693.7H571.9" stroke="#1e9e57" stroke-width="2.0"/>
<text x="578.0" y="702.2" font-family="'Liberation Serif', 'Times New Roman', serif" font-size="23.3" fill="#000" stroke="#000" stroke-width="0.3">0.4 mV/s</text>
<path d="M519.5 722.8H571.9" stroke="#a65ee8" stroke-width="2.0"/>
<text x="578.0" y="731.3" font-family="'Liberation Serif', 'Times New Roman', serif" font-size="23.3" fill="#000" stroke="#000" stroke-width="0.3">0.5 mV/s</text>
<path d="M1212.5 608.7H1265.3" stroke="#404040" stroke-width="2.4"/>
<text x="1271.3" y="616.7" font-family="'Liberation Serif', 'Times New Roman', serif" font-size="23.3" fill="#000" stroke="#000" stroke-width="0.3">0.1 mV/s</text>
<path d="M1212.5 637.5H1265.3" stroke="#f5333f" stroke-width="2.4"/>
<text x="1271.3" y="645.5" font-family="'Liberation Serif', 'Times New Roman', serif" font-size="23.3" fill="#000" stroke="#000" stroke-width="0.3">0.2 mV/s</text>
<path d="M1212.5 666.7H1265.3" stroke="#1f6fe5" stroke-width="2.4"/>
<text x="1271.3" y="674.7" font-family="'Liberation Serif', 'Times New Roman', serif" font-size="23.3" fill="#000" stroke="#000" stroke-width="0.3">0.3 mV/s</text>
<path d="M1212.5 695.4H1265.3" stroke="#1e9e57" stroke-width="2.4"/>
<text x="1271.3" y="703.4" font-family="'Liberation Serif', 'Times New Roman', serif" font-size="23.3" fill="#000" stroke="#000" stroke-width="0.3">0.4 mV/s</text>
<path d="M1212.5 724.1H1265.3" stroke="#a65ee8" stroke-width="2.4"/>
<text x="1271.3" y="732.1" font-family="'Liberation Serif', 'Times New Roman', serif" font-size="23.3" fill="#000" stroke="#000" stroke-width="0.3">0.5 mV/s</text>
<path d="M1528.3 614.2H1580.4" stroke="#404040" stroke-width="2.0"/>
<text x="1586.4" y="621.5" font-family="'Liberation Serif', 'Times New Roman', serif" font-size="23.3" fill="#000" stroke="#000" stroke-width="0.3">0.1 mV/s</text>
<path d="M1528.3 642.9H1580.4" stroke="#f5333f" stroke-width="2.0"/>
<text x="1586.4" y="650.2" font-family="'Liberation Serif', 'Times New Roman', serif" font-size="23.3" fill="#000" stroke="#000" stroke-width="0.3">0.2 mV/s</text>
<path d="M1528.3 671.4H1580.4" stroke="#1f6fe5" stroke-width="2.0"/>
<text x="1586.4" y="678.7" font-family="'Liberation Serif', 'Times New Roman', serif" font-size="23.3" fill="#000" stroke="#000" stroke-width="0.3">0.3 mV/s</text>
<path d="M1528.3 700.0H1580.4" stroke="#1e9e57" stroke-width="2.0"/>
<text x="1586.4" y="707.3" font-family="'Liberation Serif', 'Times New Roman', serif" font-size="23.3" fill="#000" stroke="#000" stroke-width="0.3">0.4 mV/s</text>
<path d="M1528.3 728.9H1580.4" stroke="#a65ee8" stroke-width="2.0"/>
<text x="1586.4" y="736.2" font-family="'Liberation Serif', 'Times New Roman', serif" font-size="23.3" fill="#000" stroke="#000" stroke-width="0.3">0.5 mV/s</text>
</svg></body></html>
